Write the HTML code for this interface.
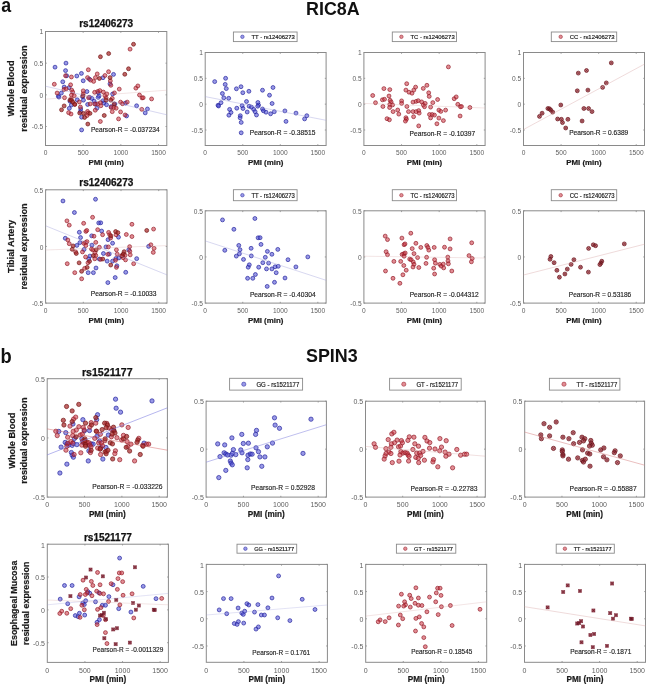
<!DOCTYPE html>
<html><head><meta charset="utf-8"><title>RIC8A / SPIN3</title>
<style>
html,body{margin:0;padding:0;background:#fff;}
body{width:647px;height:685px;overflow:hidden;}
svg{display:block;font-family:"Liberation Sans", Arial, sans-serif;}
.tk{font-size:6.6px;fill:#606060;}
.xl{font-size:7.9px;font-weight:bold;fill:#1a1a1a;stroke:#1a1a1a;stroke-width:0.2px;}
.yl{font-size:9.2px;font-weight:bold;fill:#1a1a1a;stroke:#1a1a1a;stroke-width:0.2px;}
.ti{font-size:10px;font-weight:bold;fill:#111;stroke:#111;stroke-width:0.25px;}
.big{font-size:17.9px;font-weight:bold;fill:#111;}
.pl{font-size:20.5px;font-weight:bold;fill:#111;}
.lg{fill:#1a1a1a;stroke:#1a1a1a;stroke-width:0.18px;}
.pr{fill:#1c1c1c;stroke:#1c1c1c;stroke-width:0.15px;}
</style></head><body>
<svg width="647" height="685" viewBox="0 0 647 685">
<rect width="647" height="685" fill="#fff"/>
<text x="1.3" y="12" class="pl" textLength="9.9" lengthAdjust="spacingAndGlyphs">a</text>
<text x="306" y="14.6" class="big">RIC8A</text>
<text x="0.6" y="362.6" class="pl" textLength="11.2" lengthAdjust="spacingAndGlyphs">b</text>
<text x="306" y="362.4" class="big">SPIN3</text>
<rect x="45.5" y="31.5" width="121.3" height="114" fill="none" stroke="#8a8a8a" stroke-width="1"/>
<text x="45.5" y="154.8" class="tk" style="font-size:6.6px" text-anchor="middle">0</text>
<line x1="83.17" y1="145.5" x2="83.17" y2="144.2" stroke="#8a8a8a" stroke-width="0.8"/>
<line x1="83.17" y1="31.5" x2="83.17" y2="32.8" stroke="#8a8a8a" stroke-width="0.8"/>
<text x="83.17" y="154.8" class="tk" style="font-size:6.6px" text-anchor="middle">500</text>
<line x1="120.84" y1="145.5" x2="120.84" y2="144.2" stroke="#8a8a8a" stroke-width="0.8"/>
<line x1="120.84" y1="31.5" x2="120.84" y2="32.8" stroke="#8a8a8a" stroke-width="0.8"/>
<text x="120.84" y="154.8" class="tk" style="font-size:6.6px" text-anchor="middle">1000</text>
<line x1="158.51" y1="145.5" x2="158.51" y2="144.2" stroke="#8a8a8a" stroke-width="0.8"/>
<line x1="158.51" y1="31.5" x2="158.51" y2="32.8" stroke="#8a8a8a" stroke-width="0.8"/>
<text x="158.51" y="154.8" class="tk" style="font-size:6.6px" text-anchor="middle">1500</text>
<line x1="45.5" y1="31.5" x2="46.8" y2="31.5" stroke="#8a8a8a" stroke-width="0.8"/>
<line x1="166.8" y1="31.5" x2="165.5" y2="31.5" stroke="#8a8a8a" stroke-width="0.8"/>
<text x="43.2" y="34.18" class="tk" style="font-size:6.6px" text-anchor="end">1</text>
<line x1="45.5" y1="63.17" x2="46.8" y2="63.17" stroke="#8a8a8a" stroke-width="0.8"/>
<line x1="166.8" y1="63.17" x2="165.5" y2="63.17" stroke="#8a8a8a" stroke-width="0.8"/>
<text x="43.2" y="65.84" class="tk" style="font-size:6.6px" text-anchor="end">0.5</text>
<line x1="45.5" y1="94.83" x2="46.8" y2="94.83" stroke="#8a8a8a" stroke-width="0.8"/>
<line x1="166.8" y1="94.83" x2="165.5" y2="94.83" stroke="#8a8a8a" stroke-width="0.8"/>
<text x="43.2" y="97.51" class="tk" style="font-size:6.6px" text-anchor="end">0</text>
<line x1="45.5" y1="126.5" x2="46.8" y2="126.5" stroke="#8a8a8a" stroke-width="0.8"/>
<line x1="166.8" y1="126.5" x2="165.5" y2="126.5" stroke="#8a8a8a" stroke-width="0.8"/>
<text x="43.2" y="129.18" class="tk" style="font-size:6.6px" text-anchor="end">-0.5</text>
<text x="106.15" y="164.9" class="xl" style="font-size:7.9px" text-anchor="middle">PMI (min)</text>
<g fill="#4a4ad4" fill-opacity="0.56" stroke="#22229c" stroke-opacity="0.85" stroke-width="0.8">
<circle cx="55.03" cy="67.17" r="1.95"/>
<circle cx="65.97" cy="63.13" r="1.95"/>
<circle cx="65.57" cy="70.6" r="1.95"/>
<circle cx="66.67" cy="75.75" r="1.95"/>
<circle cx="62.76" cy="81.76" r="1.95"/>
<circle cx="64.16" cy="87.03" r="1.95"/>
<circle cx="69.08" cy="87.64" r="1.95"/>
<circle cx="61.35" cy="93.04" r="1.95"/>
<circle cx="58.34" cy="96.22" r="1.95"/>
<circle cx="58.94" cy="97.08" r="1.95"/>
<circle cx="76.8" cy="76" r="1.95"/>
<circle cx="81.42" cy="73.42" r="1.95"/>
<circle cx="83.22" cy="80.78" r="1.95"/>
<circle cx="89.34" cy="79.06" r="1.95"/>
<circle cx="102.99" cy="77.71" r="1.95"/>
<circle cx="69.98" cy="101.25" r="1.95"/>
<circle cx="71.39" cy="105.05" r="1.95"/>
<circle cx="69.28" cy="108.36" r="1.95"/>
<circle cx="77.2" cy="99.78" r="1.95"/>
<circle cx="82.52" cy="96.71" r="1.95"/>
<circle cx="83.43" cy="100.15" r="1.95"/>
<circle cx="86.94" cy="91.56" r="1.95"/>
<circle cx="87.64" cy="104.44" r="1.95"/>
<circle cx="80.72" cy="108.97" r="1.95"/>
<circle cx="80.52" cy="111.55" r="1.95"/>
<circle cx="81.62" cy="117.18" r="1.95"/>
<circle cx="89.55" cy="97.33" r="1.95"/>
<circle cx="91.85" cy="98.43" r="1.95"/>
<circle cx="94.16" cy="101.25" r="1.95"/>
<circle cx="95.57" cy="104.07" r="1.95"/>
<circle cx="96.97" cy="108.11" r="1.95"/>
<circle cx="98.37" cy="92.79" r="1.95"/>
<circle cx="99.08" cy="95.98" r="1.95"/>
<circle cx="98.17" cy="97.33" r="1.95"/>
<circle cx="102.99" cy="100.76" r="1.95"/>
<circle cx="103.89" cy="102.96" r="1.95"/>
<circle cx="106.5" cy="104.68" r="1.95"/>
<circle cx="113.52" cy="74.4" r="1.95"/>
<circle cx="110.01" cy="83.84" r="1.95"/>
<circle cx="112.62" cy="94.02" r="1.95"/>
<circle cx="111.12" cy="106.64" r="1.95"/>
<circle cx="114.83" cy="104.07" r="1.95"/>
<circle cx="125.46" cy="103.09" r="1.95"/>
<circle cx="136.6" cy="105.78" r="1.95"/>
<circle cx="126.57" cy="115.96" r="1.95"/>
<circle cx="147.44" cy="108.97" r="1.95"/>
<circle cx="145.23" cy="112.89" r="1.95"/>
<circle cx="81.62" cy="129.93" r="1.95"/>
</g>
<g fill="#cc3440" fill-opacity="0.56" stroke="#921a26" stroke-opacity="0.85" stroke-width="0.8">
<circle cx="54.31" cy="84.21" r="1.95"/>
<circle cx="57.11" cy="93.04" r="1.95"/>
<circle cx="65.52" cy="75.75" r="1.95"/>
<circle cx="71.42" cy="76.98" r="1.95"/>
<circle cx="70.62" cy="84.82" r="1.95"/>
<circle cx="64.02" cy="89.48" r="1.95"/>
<circle cx="66.12" cy="88.87" r="1.95"/>
<circle cx="64.52" cy="97.69" r="1.95"/>
<circle cx="71.72" cy="90.09" r="1.95"/>
<circle cx="72.72" cy="92.05" r="1.95"/>
<circle cx="71.42" cy="95.12" r="1.95"/>
<circle cx="74.22" cy="95.73" r="1.95"/>
<circle cx="71.22" cy="98.92" r="1.95"/>
<circle cx="74.72" cy="103.95" r="1.95"/>
<circle cx="79.33" cy="101.98" r="1.95"/>
<circle cx="80.43" cy="107.01" r="1.95"/>
<circle cx="68.62" cy="112.65" r="1.95"/>
<circle cx="71.02" cy="114" r="1.95"/>
<circle cx="83.23" cy="90.83" r="1.95"/>
<circle cx="83.23" cy="93.89" r="1.95"/>
<circle cx="88.34" cy="69.75" r="1.95"/>
<circle cx="87.53" cy="77.59" r="1.95"/>
<circle cx="90.64" cy="80.16" r="1.95"/>
<circle cx="93.64" cy="81.39" r="1.95"/>
<circle cx="95.44" cy="77.59" r="1.95"/>
<circle cx="97.24" cy="73.91" r="1.95"/>
<circle cx="104.95" cy="75.51" r="1.95"/>
<circle cx="88.54" cy="97.69" r="1.95"/>
<circle cx="90.14" cy="103.95" r="1.95"/>
<circle cx="87.53" cy="111.42" r="1.95"/>
<circle cx="88.04" cy="113.26" r="1.95"/>
<circle cx="87.03" cy="115.59" r="1.95"/>
<circle cx="94.64" cy="92.3" r="1.95"/>
<circle cx="97.74" cy="91.44" r="1.95"/>
<circle cx="99.84" cy="90.58" r="1.95"/>
<circle cx="103.35" cy="92.05" r="1.95"/>
<circle cx="104.95" cy="95.73" r="1.95"/>
<circle cx="94.64" cy="103.95" r="1.95"/>
<circle cx="97.74" cy="103.95" r="1.95"/>
<circle cx="100.35" cy="102.72" r="1.95"/>
<circle cx="100.85" cy="105.78" r="1.95"/>
<circle cx="95.24" cy="110.2" r="1.95"/>
<circle cx="100.35" cy="121.47" r="1.95"/>
<circle cx="130.07" cy="49.15" r="1.95"/>
<circle cx="108.55" cy="71.71" r="1.95"/>
<circle cx="110.35" cy="80.9" r="1.95"/>
<circle cx="110.85" cy="85.31" r="1.95"/>
<circle cx="119.26" cy="89.11" r="1.95"/>
<circle cx="114.46" cy="92.91" r="1.95"/>
<circle cx="106.85" cy="93.89" r="1.95"/>
<circle cx="106.15" cy="97.94" r="1.95"/>
<circle cx="112.26" cy="98.43" r="1.95"/>
<circle cx="111.15" cy="107.5" r="1.95"/>
<circle cx="113.86" cy="107.5" r="1.95"/>
<circle cx="116.16" cy="108.24" r="1.95"/>
<circle cx="112.26" cy="111.67" r="1.95"/>
<circle cx="120.56" cy="102.11" r="1.95"/>
<circle cx="122.46" cy="103.7" r="1.95"/>
<circle cx="127.27" cy="102.11" r="1.95"/>
<circle cx="120.56" cy="111.91" r="1.95"/>
<circle cx="125.07" cy="114.98" r="1.95"/>
<circle cx="118.56" cy="118.9" r="1.95"/>
<circle cx="135.87" cy="88.13" r="1.95"/>
<circle cx="137.88" cy="85.93" r="1.95"/>
<circle cx="139.48" cy="95" r="1.95"/>
<circle cx="142.08" cy="97.94" r="1.95"/>
<circle cx="143.18" cy="97.69" r="1.95"/>
<circle cx="151.59" cy="98.92" r="1.95"/>
<circle cx="141.78" cy="109.34" r="1.95"/>
</g>
<g fill="#a82a2a" fill-opacity="0.72" stroke="#701414" stroke-opacity="0.85" stroke-width="0.8">
<circle cx="133.52" cy="44.25" r="1.95"/>
<circle cx="100.44" cy="56.75" r="1.95"/>
<circle cx="108.66" cy="53.56" r="1.95"/>
<circle cx="128.51" cy="68.76" r="1.95"/>
<circle cx="124.8" cy="74.28" r="1.95"/>
<circle cx="99.43" cy="78.45" r="1.95"/>
<circle cx="110.06" cy="77.59" r="1.95"/>
<circle cx="82.89" cy="95.85" r="1.95"/>
<circle cx="69.96" cy="100.15" r="1.95"/>
<circle cx="71.56" cy="100.51" r="1.95"/>
<circle cx="72.87" cy="102.11" r="1.95"/>
<circle cx="74.77" cy="104.56" r="1.95"/>
<circle cx="64.15" cy="105.91" r="1.95"/>
<circle cx="61.54" cy="109.83" r="1.95"/>
<circle cx="106.05" cy="100.15" r="1.95"/>
<circle cx="110.76" cy="100.15" r="1.95"/>
<circle cx="114.17" cy="103.95" r="1.95"/>
<circle cx="79.68" cy="113.02" r="1.95"/>
<circle cx="83.49" cy="113.38" r="1.95"/>
<circle cx="84.6" cy="117.43" r="1.95"/>
<circle cx="90.01" cy="113.38" r="1.95"/>
<circle cx="104.25" cy="115.47" r="1.95"/>
<circle cx="87.8" cy="124.05" r="1.95"/>
</g>
<line x1="45.5" y1="86.2" x2="166.8" y2="114.8" stroke="#a0a0dc" stroke-opacity="0.7" stroke-width="0.6"/>
<line x1="45.5" y1="99.2" x2="166.8" y2="90.2" stroke="#d8a8a8" stroke-opacity="0.5" stroke-width="0.6"/>
<text x="106.15" y="26.9" class="ti" style="font-size:10px" text-anchor="middle">rs12406273</text>
<text transform="translate(14.2,88.5) rotate(-90)" class="yl" style="font-size:9.2px" text-anchor="middle">Whole Blood</text>
<text transform="translate(26.6,88.5) rotate(-90)" class="yl" style="font-size:9.2px" text-anchor="middle">residual expression</text>
<rect x="205.2" y="52.5" width="120.9" height="93" fill="none" stroke="#8a8a8a" stroke-width="1"/>
<text x="205.2" y="154.8" class="tk" style="font-size:6.6px" text-anchor="middle">0</text>
<line x1="242.75" y1="145.5" x2="242.75" y2="144.2" stroke="#8a8a8a" stroke-width="0.8"/>
<line x1="242.75" y1="52.5" x2="242.75" y2="53.8" stroke="#8a8a8a" stroke-width="0.8"/>
<text x="242.75" y="154.8" class="tk" style="font-size:6.6px" text-anchor="middle">500</text>
<line x1="280.29" y1="145.5" x2="280.29" y2="144.2" stroke="#8a8a8a" stroke-width="0.8"/>
<line x1="280.29" y1="52.5" x2="280.29" y2="53.8" stroke="#8a8a8a" stroke-width="0.8"/>
<text x="280.29" y="154.8" class="tk" style="font-size:6.6px" text-anchor="middle">1000</text>
<line x1="317.84" y1="145.5" x2="317.84" y2="144.2" stroke="#8a8a8a" stroke-width="0.8"/>
<line x1="317.84" y1="52.5" x2="317.84" y2="53.8" stroke="#8a8a8a" stroke-width="0.8"/>
<text x="317.84" y="154.8" class="tk" style="font-size:6.6px" text-anchor="middle">1500</text>
<line x1="205.2" y1="52.5" x2="206.5" y2="52.5" stroke="#8a8a8a" stroke-width="0.8"/>
<line x1="326.1" y1="52.5" x2="324.8" y2="52.5" stroke="#8a8a8a" stroke-width="0.8"/>
<text x="202.9" y="55.18" class="tk" style="font-size:6.6px" text-anchor="end">1</text>
<line x1="205.2" y1="78.33" x2="206.5" y2="78.33" stroke="#8a8a8a" stroke-width="0.8"/>
<line x1="326.1" y1="78.33" x2="324.8" y2="78.33" stroke="#8a8a8a" stroke-width="0.8"/>
<text x="202.9" y="81.01" class="tk" style="font-size:6.6px" text-anchor="end">0.5</text>
<line x1="205.2" y1="104.17" x2="206.5" y2="104.17" stroke="#8a8a8a" stroke-width="0.8"/>
<line x1="326.1" y1="104.17" x2="324.8" y2="104.17" stroke="#8a8a8a" stroke-width="0.8"/>
<text x="202.9" y="106.84" class="tk" style="font-size:6.6px" text-anchor="end">0</text>
<line x1="205.2" y1="130" x2="206.5" y2="130" stroke="#8a8a8a" stroke-width="0.8"/>
<line x1="326.1" y1="130" x2="324.8" y2="130" stroke="#8a8a8a" stroke-width="0.8"/>
<text x="202.9" y="132.68" class="tk" style="font-size:6.6px" text-anchor="end">-0.5</text>
<text x="265.65" y="164.9" class="xl" style="font-size:7.9px" text-anchor="middle">PMI (min)</text>
<g fill="#4a4ad4" fill-opacity="0.56" stroke="#22229c" stroke-opacity="0.85" stroke-width="0.8">
<circle cx="214.7" cy="81.6" r="1.95"/>
<circle cx="225.6" cy="78.3" r="1.95"/>
<circle cx="225.2" cy="84.4" r="1.95"/>
<circle cx="226.3" cy="88.6" r="1.95"/>
<circle cx="222.4" cy="93.5" r="1.95"/>
<circle cx="223.8" cy="97.8" r="1.95"/>
<circle cx="228.7" cy="98.3" r="1.95"/>
<circle cx="221" cy="102.7" r="1.95"/>
<circle cx="218" cy="105.3" r="1.95"/>
<circle cx="218.6" cy="106" r="1.95"/>
<circle cx="236.4" cy="88.8" r="1.95"/>
<circle cx="241" cy="86.7" r="1.95"/>
<circle cx="242.8" cy="92.7" r="1.95"/>
<circle cx="248.9" cy="91.3" r="1.95"/>
<circle cx="262.5" cy="90.2" r="1.95"/>
<circle cx="229.6" cy="109.4" r="1.95"/>
<circle cx="231" cy="112.5" r="1.95"/>
<circle cx="228.9" cy="115.2" r="1.95"/>
<circle cx="236.8" cy="108.2" r="1.95"/>
<circle cx="242.1" cy="105.7" r="1.95"/>
<circle cx="243" cy="108.5" r="1.95"/>
<circle cx="246.5" cy="101.5" r="1.95"/>
<circle cx="247.2" cy="112" r="1.95"/>
<circle cx="240.3" cy="115.7" r="1.95"/>
<circle cx="240.1" cy="117.8" r="1.95"/>
<circle cx="241.2" cy="122.4" r="1.95"/>
<circle cx="249.1" cy="106.2" r="1.95"/>
<circle cx="251.4" cy="107.1" r="1.95"/>
<circle cx="253.7" cy="109.4" r="1.95"/>
<circle cx="255.1" cy="111.7" r="1.95"/>
<circle cx="256.5" cy="115" r="1.95"/>
<circle cx="257.9" cy="102.5" r="1.95"/>
<circle cx="258.6" cy="105.1" r="1.95"/>
<circle cx="257.7" cy="106.2" r="1.95"/>
<circle cx="262.5" cy="109" r="1.95"/>
<circle cx="263.4" cy="110.8" r="1.95"/>
<circle cx="266" cy="112.2" r="1.95"/>
<circle cx="273" cy="87.5" r="1.95"/>
<circle cx="269.5" cy="95.2" r="1.95"/>
<circle cx="272.1" cy="103.5" r="1.95"/>
<circle cx="270.6" cy="113.8" r="1.95"/>
<circle cx="274.3" cy="111.7" r="1.95"/>
<circle cx="284.9" cy="110.9" r="1.95"/>
<circle cx="296" cy="113.1" r="1.95"/>
<circle cx="286" cy="121.4" r="1.95"/>
<circle cx="306.8" cy="115.7" r="1.95"/>
<circle cx="304.6" cy="118.9" r="1.95"/>
<circle cx="241.2" cy="132.8" r="1.95"/>
</g>
<line x1="205.2" y1="96.6" x2="326.1" y2="120.3" stroke="#a0a0dc" stroke-opacity="0.7" stroke-width="0.6"/>
<rect x="233.4" y="32" width="63.7" height="9.6" fill="#fff" stroke="#8a8a8a" stroke-width="0.9"/>
<circle cx="242.4" cy="36.8" r="1.75" fill="#4a4ad4" fill-opacity="0.56" stroke="#22229c" stroke-opacity="0.85" stroke-width="0.6"/>
<text x="251.4" y="38.92" class="lg" style="font-size:5.9px" textLength="43.51" lengthAdjust="spacingAndGlyphs">TT - rs12406273</text>
<rect x="363.9" y="52.5" width="121.2" height="93" fill="none" stroke="#8a8a8a" stroke-width="1"/>
<text x="363.9" y="154.8" class="tk" style="font-size:6.6px" text-anchor="middle">0</text>
<line x1="401.54" y1="145.5" x2="401.54" y2="144.2" stroke="#8a8a8a" stroke-width="0.8"/>
<line x1="401.54" y1="52.5" x2="401.54" y2="53.8" stroke="#8a8a8a" stroke-width="0.8"/>
<text x="401.54" y="154.8" class="tk" style="font-size:6.6px" text-anchor="middle">500</text>
<line x1="439.18" y1="145.5" x2="439.18" y2="144.2" stroke="#8a8a8a" stroke-width="0.8"/>
<line x1="439.18" y1="52.5" x2="439.18" y2="53.8" stroke="#8a8a8a" stroke-width="0.8"/>
<text x="439.18" y="154.8" class="tk" style="font-size:6.6px" text-anchor="middle">1000</text>
<line x1="476.82" y1="145.5" x2="476.82" y2="144.2" stroke="#8a8a8a" stroke-width="0.8"/>
<line x1="476.82" y1="52.5" x2="476.82" y2="53.8" stroke="#8a8a8a" stroke-width="0.8"/>
<text x="476.82" y="154.8" class="tk" style="font-size:6.6px" text-anchor="middle">1500</text>
<line x1="363.9" y1="52.5" x2="365.2" y2="52.5" stroke="#8a8a8a" stroke-width="0.8"/>
<line x1="485.1" y1="52.5" x2="483.8" y2="52.5" stroke="#8a8a8a" stroke-width="0.8"/>
<text x="361.6" y="55.18" class="tk" style="font-size:6.6px" text-anchor="end">1</text>
<line x1="363.9" y1="78.33" x2="365.2" y2="78.33" stroke="#8a8a8a" stroke-width="0.8"/>
<line x1="485.1" y1="78.33" x2="483.8" y2="78.33" stroke="#8a8a8a" stroke-width="0.8"/>
<text x="361.6" y="81.01" class="tk" style="font-size:6.6px" text-anchor="end">0.5</text>
<line x1="363.9" y1="104.17" x2="365.2" y2="104.17" stroke="#8a8a8a" stroke-width="0.8"/>
<line x1="485.1" y1="104.17" x2="483.8" y2="104.17" stroke="#8a8a8a" stroke-width="0.8"/>
<text x="361.6" y="106.84" class="tk" style="font-size:6.6px" text-anchor="end">0</text>
<line x1="363.9" y1="130" x2="365.2" y2="130" stroke="#8a8a8a" stroke-width="0.8"/>
<line x1="485.1" y1="130" x2="483.8" y2="130" stroke="#8a8a8a" stroke-width="0.8"/>
<text x="361.6" y="132.68" class="tk" style="font-size:6.6px" text-anchor="end">-0.5</text>
<text x="424.5" y="164.9" class="xl" style="font-size:7.9px" text-anchor="middle">PMI (min)</text>
<g fill="#cc3440" fill-opacity="0.56" stroke="#921a26" stroke-opacity="0.85" stroke-width="0.8">
<circle cx="372.7" cy="95.5" r="1.95"/>
<circle cx="375.5" cy="102.7" r="1.95"/>
<circle cx="383.9" cy="88.6" r="1.95"/>
<circle cx="389.8" cy="89.6" r="1.95"/>
<circle cx="389" cy="96" r="1.95"/>
<circle cx="382.4" cy="99.8" r="1.95"/>
<circle cx="384.5" cy="99.3" r="1.95"/>
<circle cx="382.9" cy="106.5" r="1.95"/>
<circle cx="390.1" cy="100.3" r="1.95"/>
<circle cx="391.1" cy="101.9" r="1.95"/>
<circle cx="389.8" cy="104.4" r="1.95"/>
<circle cx="392.6" cy="104.9" r="1.95"/>
<circle cx="389.6" cy="107.5" r="1.95"/>
<circle cx="393.1" cy="111.6" r="1.95"/>
<circle cx="397.7" cy="110" r="1.95"/>
<circle cx="398.8" cy="114.1" r="1.95"/>
<circle cx="387" cy="118.7" r="1.95"/>
<circle cx="389.4" cy="119.8" r="1.95"/>
<circle cx="401.6" cy="100.9" r="1.95"/>
<circle cx="401.6" cy="103.4" r="1.95"/>
<circle cx="406.7" cy="83.7" r="1.95"/>
<circle cx="405.9" cy="90.1" r="1.95"/>
<circle cx="409" cy="92.2" r="1.95"/>
<circle cx="412" cy="93.2" r="1.95"/>
<circle cx="413.8" cy="90.1" r="1.95"/>
<circle cx="415.6" cy="87.1" r="1.95"/>
<circle cx="423.3" cy="88.4" r="1.95"/>
<circle cx="406.9" cy="106.5" r="1.95"/>
<circle cx="408.5" cy="111.6" r="1.95"/>
<circle cx="405.9" cy="117.7" r="1.95"/>
<circle cx="406.4" cy="119.2" r="1.95"/>
<circle cx="405.4" cy="121.1" r="1.95"/>
<circle cx="413" cy="102.1" r="1.95"/>
<circle cx="416.1" cy="101.4" r="1.95"/>
<circle cx="418.2" cy="100.7" r="1.95"/>
<circle cx="421.7" cy="101.9" r="1.95"/>
<circle cx="423.3" cy="104.9" r="1.95"/>
<circle cx="413" cy="111.6" r="1.95"/>
<circle cx="416.1" cy="111.6" r="1.95"/>
<circle cx="418.7" cy="110.6" r="1.95"/>
<circle cx="419.2" cy="113.1" r="1.95"/>
<circle cx="413.6" cy="116.7" r="1.95"/>
<circle cx="418.7" cy="125.9" r="1.95"/>
<circle cx="448.4" cy="66.9" r="1.95"/>
<circle cx="426.9" cy="85.3" r="1.95"/>
<circle cx="428.7" cy="92.8" r="1.95"/>
<circle cx="429.2" cy="96.4" r="1.95"/>
<circle cx="437.6" cy="99.5" r="1.95"/>
<circle cx="432.8" cy="102.6" r="1.95"/>
<circle cx="425.2" cy="103.4" r="1.95"/>
<circle cx="424.5" cy="106.7" r="1.95"/>
<circle cx="430.6" cy="107.1" r="1.95"/>
<circle cx="429.5" cy="114.5" r="1.95"/>
<circle cx="432.2" cy="114.5" r="1.95"/>
<circle cx="434.5" cy="115.1" r="1.95"/>
<circle cx="430.6" cy="117.9" r="1.95"/>
<circle cx="438.9" cy="110.1" r="1.95"/>
<circle cx="440.8" cy="111.4" r="1.95"/>
<circle cx="445.6" cy="110.1" r="1.95"/>
<circle cx="438.9" cy="118.1" r="1.95"/>
<circle cx="443.4" cy="120.6" r="1.95"/>
<circle cx="436.9" cy="123.8" r="1.95"/>
<circle cx="454.2" cy="98.7" r="1.95"/>
<circle cx="456.2" cy="96.9" r="1.95"/>
<circle cx="457.8" cy="104.3" r="1.95"/>
<circle cx="460.4" cy="106.7" r="1.95"/>
<circle cx="461.5" cy="106.5" r="1.95"/>
<circle cx="469.9" cy="107.5" r="1.95"/>
<circle cx="460.1" cy="116" r="1.95"/>
</g>
<line x1="363.9" y1="103.4" x2="485.1" y2="108" stroke="#d8a8a8" stroke-opacity="0.5" stroke-width="0.6"/>
<rect x="392.3" y="32" width="64.2" height="9.6" fill="#fff" stroke="#8a8a8a" stroke-width="0.9"/>
<circle cx="401.4" cy="36.8" r="1.75" fill="#cc3440" fill-opacity="0.56" stroke="#921a26" stroke-opacity="0.85" stroke-width="0.6"/>
<text x="410.4" y="38.92" class="lg" style="font-size:5.9px" textLength="44.27" lengthAdjust="spacingAndGlyphs">TC - rs12406273</text>
<rect x="523.5" y="52.5" width="121" height="93" fill="none" stroke="#8a8a8a" stroke-width="1"/>
<text x="523.5" y="154.8" class="tk" style="font-size:6.6px" text-anchor="middle">0</text>
<line x1="561.08" y1="145.5" x2="561.08" y2="144.2" stroke="#8a8a8a" stroke-width="0.8"/>
<line x1="561.08" y1="52.5" x2="561.08" y2="53.8" stroke="#8a8a8a" stroke-width="0.8"/>
<text x="561.08" y="154.8" class="tk" style="font-size:6.6px" text-anchor="middle">500</text>
<line x1="598.66" y1="145.5" x2="598.66" y2="144.2" stroke="#8a8a8a" stroke-width="0.8"/>
<line x1="598.66" y1="52.5" x2="598.66" y2="53.8" stroke="#8a8a8a" stroke-width="0.8"/>
<text x="598.66" y="154.8" class="tk" style="font-size:6.6px" text-anchor="middle">1000</text>
<line x1="636.23" y1="145.5" x2="636.23" y2="144.2" stroke="#8a8a8a" stroke-width="0.8"/>
<line x1="636.23" y1="52.5" x2="636.23" y2="53.8" stroke="#8a8a8a" stroke-width="0.8"/>
<text x="636.23" y="154.8" class="tk" style="font-size:6.6px" text-anchor="middle">1500</text>
<line x1="523.5" y1="52.5" x2="524.8" y2="52.5" stroke="#8a8a8a" stroke-width="0.8"/>
<line x1="644.5" y1="52.5" x2="643.2" y2="52.5" stroke="#8a8a8a" stroke-width="0.8"/>
<text x="521.2" y="55.18" class="tk" style="font-size:6.6px" text-anchor="end">1</text>
<line x1="523.5" y1="78.33" x2="524.8" y2="78.33" stroke="#8a8a8a" stroke-width="0.8"/>
<line x1="644.5" y1="78.33" x2="643.2" y2="78.33" stroke="#8a8a8a" stroke-width="0.8"/>
<text x="521.2" y="81.01" class="tk" style="font-size:6.6px" text-anchor="end">0.5</text>
<line x1="523.5" y1="104.17" x2="524.8" y2="104.17" stroke="#8a8a8a" stroke-width="0.8"/>
<line x1="644.5" y1="104.17" x2="643.2" y2="104.17" stroke="#8a8a8a" stroke-width="0.8"/>
<text x="521.2" y="106.84" class="tk" style="font-size:6.6px" text-anchor="end">0</text>
<line x1="523.5" y1="130" x2="524.8" y2="130" stroke="#8a8a8a" stroke-width="0.8"/>
<line x1="644.5" y1="130" x2="643.2" y2="130" stroke="#8a8a8a" stroke-width="0.8"/>
<text x="521.2" y="132.68" class="tk" style="font-size:6.6px" text-anchor="end">-0.5</text>
<text x="584" y="164.9" class="xl" style="font-size:7.9px" text-anchor="middle">PMI (min)</text>
<g fill="#a8343e" fill-opacity="0.72" stroke="#641018" stroke-opacity="0.85" stroke-width="0.8">
<circle cx="611.3" cy="62.9" r="1.95"/>
<circle cx="578.3" cy="73.1" r="1.95"/>
<circle cx="586.5" cy="70.5" r="1.95"/>
<circle cx="606.3" cy="82.9" r="1.95"/>
<circle cx="602.6" cy="87.4" r="1.95"/>
<circle cx="577.3" cy="90.8" r="1.95"/>
<circle cx="587.9" cy="90.1" r="1.95"/>
<circle cx="560.8" cy="105" r="1.95"/>
<circle cx="547.9" cy="108.5" r="1.95"/>
<circle cx="549.5" cy="108.8" r="1.95"/>
<circle cx="550.8" cy="110.1" r="1.95"/>
<circle cx="552.7" cy="112.1" r="1.95"/>
<circle cx="542.1" cy="113.2" r="1.95"/>
<circle cx="539.5" cy="116.4" r="1.95"/>
<circle cx="583.9" cy="108.5" r="1.95"/>
<circle cx="588.6" cy="108.5" r="1.95"/>
<circle cx="592" cy="111.6" r="1.95"/>
<circle cx="557.6" cy="119" r="1.95"/>
<circle cx="561.4" cy="119.3" r="1.95"/>
<circle cx="562.5" cy="122.6" r="1.95"/>
<circle cx="567.9" cy="119.3" r="1.95"/>
<circle cx="582.1" cy="121" r="1.95"/>
<circle cx="565.7" cy="128" r="1.95"/>
</g>
<path d="M610.1 61.7L612.5 64.1M610.1 64.1L612.5 61.7M577.1 71.9L579.5 74.3M577.1 74.3L579.5 71.9M585.3 69.3L587.7 71.7M585.3 71.7L587.7 69.3M605.1 81.7L607.5 84.1M605.1 84.1L607.5 81.7M601.4 86.2L603.8 88.6M601.4 88.6L603.8 86.2M576.1 89.6L578.5 92M576.1 92L578.5 89.6M586.7 88.9L589.1 91.3M586.7 91.3L589.1 88.9M559.6 103.8L562 106.2M559.6 106.2L562 103.8M546.7 107.3L549.1 109.7M546.7 109.7L549.1 107.3M548.3 107.6L550.7 110M548.3 110L550.7 107.6M549.6 108.9L552 111.3M549.6 111.3L552 108.9M551.5 110.9L553.9 113.3M551.5 113.3L553.9 110.9M540.9 112L543.3 114.4M540.9 114.4L543.3 112M538.3 115.2L540.7 117.6M538.3 117.6L540.7 115.2M582.7 107.3L585.1 109.7M582.7 109.7L585.1 107.3M587.4 107.3L589.8 109.7M587.4 109.7L589.8 107.3M590.8 110.4L593.2 112.8M590.8 112.8L593.2 110.4M556.4 117.8L558.8 120.2M556.4 120.2L558.8 117.8M560.2 118.1L562.6 120.5M560.2 120.5L562.6 118.1M561.3 121.4L563.7 123.8M561.3 123.8L563.7 121.4M566.7 118.1L569.1 120.5M566.7 120.5L569.1 118.1M580.9 119.8L583.3 122.2M580.9 122.2L583.3 119.8M564.5 126.8L566.9 129.2M564.5 129.2L566.9 126.8" stroke="#4a0c14" stroke-opacity="0.6" stroke-width="0.55" fill="none"/>
<line x1="523.5" y1="129.5" x2="644.5" y2="64.1" stroke="#d8a8a8" stroke-opacity="0.7" stroke-width="0.6"/>
<rect x="551.3" y="32" width="65.4" height="9.6" fill="#fff" stroke="#8a8a8a" stroke-width="0.9"/>
<circle cx="560.7" cy="36.8" r="1.75" fill="#cc3440" fill-opacity="0.56" stroke="#921a26" stroke-opacity="0.85" stroke-width="0.6"/>
<text x="569.7" y="38.92" class="lg" style="font-size:5.9px" textLength="44.93" lengthAdjust="spacingAndGlyphs">CC - rs12406273</text>
<text x="90.9" y="132.26" class="pr" style="font-size:7.1px" textLength="68.8" lengthAdjust="spacingAndGlyphs">Pearson-R = -0.037234</text>
<text x="249.8" y="135.36" class="pr" style="font-size:7.1px" textLength="65.54" lengthAdjust="spacingAndGlyphs">Pearson-R = -0.38515</text>
<text x="409.6" y="135.56" class="pr" style="font-size:7.1px" textLength="65.54" lengthAdjust="spacingAndGlyphs">Pearson-R = -0.10397</text>
<text x="569.2" y="134.86" class="pr" style="font-size:7.1px" textLength="59.02" lengthAdjust="spacingAndGlyphs">Pearson-R = 0.6389</text>
<rect x="45.6" y="189.8" width="121.4" height="113.3" fill="none" stroke="#8a8a8a" stroke-width="1"/>
<text x="45.6" y="313.4" class="tk" style="font-size:6.6px" text-anchor="middle">0</text>
<line x1="83.3" y1="303.1" x2="83.3" y2="301.8" stroke="#8a8a8a" stroke-width="0.8"/>
<line x1="83.3" y1="189.8" x2="83.3" y2="191.1" stroke="#8a8a8a" stroke-width="0.8"/>
<text x="83.3" y="313.4" class="tk" style="font-size:6.6px" text-anchor="middle">500</text>
<line x1="121" y1="303.1" x2="121" y2="301.8" stroke="#8a8a8a" stroke-width="0.8"/>
<line x1="121" y1="189.8" x2="121" y2="191.1" stroke="#8a8a8a" stroke-width="0.8"/>
<text x="121" y="313.4" class="tk" style="font-size:6.6px" text-anchor="middle">1000</text>
<line x1="158.71" y1="303.1" x2="158.71" y2="301.8" stroke="#8a8a8a" stroke-width="0.8"/>
<line x1="158.71" y1="189.8" x2="158.71" y2="191.1" stroke="#8a8a8a" stroke-width="0.8"/>
<text x="158.71" y="313.4" class="tk" style="font-size:6.6px" text-anchor="middle">1500</text>
<line x1="45.6" y1="189.8" x2="46.9" y2="189.8" stroke="#8a8a8a" stroke-width="0.8"/>
<line x1="167" y1="189.8" x2="165.7" y2="189.8" stroke="#8a8a8a" stroke-width="0.8"/>
<text x="43.3" y="192.98" class="tk" style="font-size:6.6px" text-anchor="end">0.5</text>
<line x1="45.6" y1="246.45" x2="46.9" y2="246.45" stroke="#8a8a8a" stroke-width="0.8"/>
<line x1="167" y1="246.45" x2="165.7" y2="246.45" stroke="#8a8a8a" stroke-width="0.8"/>
<text x="43.3" y="249.63" class="tk" style="font-size:6.6px" text-anchor="end">0</text>
<line x1="45.6" y1="303.1" x2="46.9" y2="303.1" stroke="#8a8a8a" stroke-width="0.8"/>
<line x1="167" y1="303.1" x2="165.7" y2="303.1" stroke="#8a8a8a" stroke-width="0.8"/>
<text x="43.3" y="306.28" class="tk" style="font-size:6.6px" text-anchor="end">-0.5</text>
<text x="106.3" y="322.5" class="xl" style="font-size:7.9px" text-anchor="middle">PMI (min)</text>
<g fill="#4a4ad4" fill-opacity="0.56" stroke="#22229c" stroke-opacity="0.85" stroke-width="0.8">
<circle cx="62.97" cy="200.97" r="1.95"/>
<circle cx="95.51" cy="199.25" r="1.95"/>
<circle cx="74.42" cy="212.51" r="1.95"/>
<circle cx="98.72" cy="222.94" r="1.95"/>
<circle cx="100.73" cy="222.82" r="1.95"/>
<circle cx="101.63" cy="231.04" r="1.95"/>
<circle cx="65.28" cy="238.29" r="1.95"/>
<circle cx="79.34" cy="232.27" r="1.95"/>
<circle cx="80.54" cy="237.55" r="1.95"/>
<circle cx="79.94" cy="242.58" r="1.95"/>
<circle cx="76.83" cy="245.41" r="1.95"/>
<circle cx="84.06" cy="249.46" r="1.95"/>
<circle cx="91.69" cy="235.83" r="1.95"/>
<circle cx="91.89" cy="245.16" r="1.95"/>
<circle cx="89.88" cy="256.09" r="1.95"/>
<circle cx="88.78" cy="259.03" r="1.95"/>
<circle cx="96.01" cy="267.99" r="1.95"/>
<circle cx="93.4" cy="272.66" r="1.95"/>
<circle cx="88.18" cy="272.66" r="1.95"/>
<circle cx="108.06" cy="239.64" r="1.95"/>
<circle cx="105.95" cy="246.88" r="1.95"/>
<circle cx="103.44" cy="253.51" r="1.95"/>
<circle cx="99.32" cy="259.03" r="1.95"/>
<circle cx="107.15" cy="261.12" r="1.95"/>
<circle cx="109.26" cy="254" r="1.95"/>
<circle cx="107.86" cy="282.6" r="1.95"/>
<circle cx="118.5" cy="237.18" r="1.95"/>
<circle cx="112.58" cy="243.2" r="1.95"/>
<circle cx="112.58" cy="261.12" r="1.95"/>
<circle cx="115.79" cy="258.54" r="1.95"/>
<circle cx="118.9" cy="257.93" r="1.95"/>
<circle cx="116.89" cy="265.78" r="1.95"/>
<circle cx="128.74" cy="249.83" r="1.95"/>
<circle cx="136.68" cy="258.66" r="1.95"/>
<circle cx="148.62" cy="246.39" r="1.95"/>
<circle cx="125.73" cy="272.29" r="1.95"/>
<circle cx="115.19" cy="277.57" r="1.95"/>
</g>
<g fill="#cc3440" fill-opacity="0.56" stroke="#921a26" stroke-opacity="0.85" stroke-width="0.8">
<circle cx="66.94" cy="220.86" r="1.95"/>
<circle cx="69.24" cy="225.15" r="1.95"/>
<circle cx="92.58" cy="217.3" r="1.95"/>
<circle cx="83.66" cy="223.31" r="1.95"/>
<circle cx="85.87" cy="231.41" r="1.95"/>
<circle cx="86.77" cy="230.43" r="1.95"/>
<circle cx="97.69" cy="229.69" r="1.95"/>
<circle cx="102.59" cy="234.73" r="1.95"/>
<circle cx="93.98" cy="236.2" r="1.95"/>
<circle cx="67.84" cy="240.01" r="1.95"/>
<circle cx="69.24" cy="243.69" r="1.95"/>
<circle cx="83.86" cy="243.32" r="1.95"/>
<circle cx="85.57" cy="242.58" r="1.95"/>
<circle cx="86.97" cy="241.6" r="1.95"/>
<circle cx="85.87" cy="245.53" r="1.95"/>
<circle cx="95.78" cy="242.34" r="1.95"/>
<circle cx="99.39" cy="247.25" r="1.95"/>
<circle cx="75.65" cy="251.91" r="1.95"/>
<circle cx="82.46" cy="251.91" r="1.95"/>
<circle cx="85.57" cy="256.95" r="1.95"/>
<circle cx="91.48" cy="249.09" r="1.95"/>
<circle cx="92.88" cy="249.83" r="1.95"/>
<circle cx="94.98" cy="252.65" r="1.95"/>
<circle cx="95.78" cy="255.47" r="1.95"/>
<circle cx="94.78" cy="258.79" r="1.95"/>
<circle cx="100.59" cy="259.4" r="1.95"/>
<circle cx="87.97" cy="262.71" r="1.95"/>
<circle cx="67.24" cy="263.7" r="1.95"/>
<circle cx="84.66" cy="268.36" r="1.95"/>
<circle cx="74.75" cy="272.66" r="1.95"/>
<circle cx="81.66" cy="278.8" r="1.95"/>
<circle cx="108.6" cy="232.39" r="1.95"/>
<circle cx="108.4" cy="246.88" r="1.95"/>
<circle cx="107.8" cy="254.37" r="1.95"/>
<circle cx="109.71" cy="234.73" r="1.95"/>
<circle cx="110.61" cy="238.04" r="1.95"/>
<circle cx="116.02" cy="234.73" r="1.95"/>
<circle cx="126.33" cy="234.48" r="1.95"/>
<circle cx="131.94" cy="236.57" r="1.95"/>
<circle cx="131.94" cy="224.29" r="1.95"/>
<circle cx="153.58" cy="229.08" r="1.95"/>
<circle cx="116.42" cy="249.83" r="1.95"/>
<circle cx="117.22" cy="254.12" r="1.95"/>
<circle cx="115.52" cy="260.26" r="1.95"/>
<circle cx="116.42" cy="267.38" r="1.95"/>
<circle cx="121.63" cy="255.6" r="1.95"/>
<circle cx="123.03" cy="257.68" r="1.95"/>
<circle cx="125.13" cy="255.23" r="1.95"/>
<circle cx="125.53" cy="259.89" r="1.95"/>
<circle cx="129.64" cy="246.63" r="1.95"/>
<circle cx="129.84" cy="251.3" r="1.95"/>
<circle cx="130.24" cy="254.86" r="1.95"/>
<circle cx="133.65" cy="263.7" r="1.95"/>
<circle cx="150.87" cy="244.79" r="1.95"/>
<circle cx="154.08" cy="248.35" r="1.95"/>
<circle cx="153.28" cy="252.4" r="1.95"/>
</g>
<g fill="#a82a2a" fill-opacity="0.72" stroke="#701414" stroke-opacity="0.85" stroke-width="0.8">
<circle cx="146.73" cy="230.43" r="1.95"/>
<circle cx="110.92" cy="235.95" r="1.95"/>
<circle cx="115.63" cy="231.54" r="1.95"/>
<circle cx="117.94" cy="232.64" r="1.95"/>
<circle cx="73.09" cy="245.9" r="1.95"/>
<circle cx="72.19" cy="249.33" r="1.95"/>
<circle cx="76.3" cy="253.51" r="1.95"/>
<circle cx="96.17" cy="249.83" r="1.95"/>
<circle cx="93.36" cy="255.6" r="1.95"/>
<circle cx="89.54" cy="261.36" r="1.95"/>
<circle cx="79.11" cy="262.84" r="1.95"/>
<circle cx="87.14" cy="267.38" r="1.95"/>
<circle cx="81.62" cy="271.31" r="1.95"/>
<circle cx="102.79" cy="259.03" r="1.95"/>
<circle cx="110.71" cy="265.05" r="1.95"/>
<circle cx="124.16" cy="251.67" r="1.95"/>
<circle cx="123.26" cy="254" r="1.95"/>
<circle cx="122.25" cy="255.84" r="1.95"/>
</g>
<line x1="45.6" y1="225.8" x2="167" y2="274.9" stroke="#a0a0dc" stroke-opacity="0.7" stroke-width="0.6"/>
<line x1="45.6" y1="250" x2="167" y2="245.6" stroke="#d8a8a8" stroke-opacity="0.5" stroke-width="0.6"/>
<text x="106.3" y="185.5" class="ti" style="font-size:10px" text-anchor="middle">rs12406273</text>
<text transform="translate(14.2,246.45) rotate(-90)" class="yl" style="font-size:9.2px" text-anchor="middle">Tibial Artery</text>
<text transform="translate(26.6,246.45) rotate(-90)" class="yl" style="font-size:9.2px" text-anchor="middle">residual expression</text>
<rect x="205.2" y="210.8" width="120.9" height="92.3" fill="none" stroke="#8a8a8a" stroke-width="1"/>
<text x="205.2" y="313.4" class="tk" style="font-size:6.6px" text-anchor="middle">0</text>
<line x1="242.75" y1="303.1" x2="242.75" y2="301.8" stroke="#8a8a8a" stroke-width="0.8"/>
<line x1="242.75" y1="210.8" x2="242.75" y2="212.1" stroke="#8a8a8a" stroke-width="0.8"/>
<text x="242.75" y="313.4" class="tk" style="font-size:6.6px" text-anchor="middle">500</text>
<line x1="280.29" y1="303.1" x2="280.29" y2="301.8" stroke="#8a8a8a" stroke-width="0.8"/>
<line x1="280.29" y1="210.8" x2="280.29" y2="212.1" stroke="#8a8a8a" stroke-width="0.8"/>
<text x="280.29" y="313.4" class="tk" style="font-size:6.6px" text-anchor="middle">1000</text>
<line x1="317.84" y1="303.1" x2="317.84" y2="301.8" stroke="#8a8a8a" stroke-width="0.8"/>
<line x1="317.84" y1="210.8" x2="317.84" y2="212.1" stroke="#8a8a8a" stroke-width="0.8"/>
<text x="317.84" y="313.4" class="tk" style="font-size:6.6px" text-anchor="middle">1500</text>
<line x1="205.2" y1="210.8" x2="206.5" y2="210.8" stroke="#8a8a8a" stroke-width="0.8"/>
<line x1="326.1" y1="210.8" x2="324.8" y2="210.8" stroke="#8a8a8a" stroke-width="0.8"/>
<text x="202.9" y="213.98" class="tk" style="font-size:6.6px" text-anchor="end">0.5</text>
<line x1="205.2" y1="256.95" x2="206.5" y2="256.95" stroke="#8a8a8a" stroke-width="0.8"/>
<line x1="326.1" y1="256.95" x2="324.8" y2="256.95" stroke="#8a8a8a" stroke-width="0.8"/>
<text x="202.9" y="260.13" class="tk" style="font-size:6.6px" text-anchor="end">0</text>
<line x1="205.2" y1="303.1" x2="206.5" y2="303.1" stroke="#8a8a8a" stroke-width="0.8"/>
<line x1="326.1" y1="303.1" x2="324.8" y2="303.1" stroke="#8a8a8a" stroke-width="0.8"/>
<text x="202.9" y="306.28" class="tk" style="font-size:6.6px" text-anchor="end">-0.5</text>
<text x="265.65" y="322.5" class="xl" style="font-size:7.9px" text-anchor="middle">PMI (min)</text>
<g fill="#4a4ad4" fill-opacity="0.56" stroke="#22229c" stroke-opacity="0.85" stroke-width="0.8">
<circle cx="222.5" cy="219.9" r="1.95"/>
<circle cx="254.9" cy="218.5" r="1.95"/>
<circle cx="233.9" cy="229.3" r="1.95"/>
<circle cx="258.1" cy="237.8" r="1.95"/>
<circle cx="260.1" cy="237.7" r="1.95"/>
<circle cx="261" cy="244.4" r="1.95"/>
<circle cx="224.8" cy="250.3" r="1.95"/>
<circle cx="238.8" cy="245.4" r="1.95"/>
<circle cx="240" cy="249.7" r="1.95"/>
<circle cx="239.4" cy="253.8" r="1.95"/>
<circle cx="236.3" cy="256.1" r="1.95"/>
<circle cx="243.5" cy="259.4" r="1.95"/>
<circle cx="251.1" cy="248.3" r="1.95"/>
<circle cx="251.3" cy="255.9" r="1.95"/>
<circle cx="249.3" cy="264.8" r="1.95"/>
<circle cx="248.2" cy="267.2" r="1.95"/>
<circle cx="255.4" cy="274.5" r="1.95"/>
<circle cx="252.8" cy="278.3" r="1.95"/>
<circle cx="247.6" cy="278.3" r="1.95"/>
<circle cx="267.4" cy="251.4" r="1.95"/>
<circle cx="265.3" cy="257.3" r="1.95"/>
<circle cx="262.8" cy="262.7" r="1.95"/>
<circle cx="258.7" cy="267.2" r="1.95"/>
<circle cx="266.5" cy="268.9" r="1.95"/>
<circle cx="268.6" cy="263.1" r="1.95"/>
<circle cx="267.2" cy="286.4" r="1.95"/>
<circle cx="277.8" cy="249.4" r="1.95"/>
<circle cx="271.9" cy="254.3" r="1.95"/>
<circle cx="271.9" cy="268.9" r="1.95"/>
<circle cx="275.1" cy="266.8" r="1.95"/>
<circle cx="278.2" cy="266.3" r="1.95"/>
<circle cx="276.2" cy="272.7" r="1.95"/>
<circle cx="288" cy="259.7" r="1.95"/>
<circle cx="295.9" cy="266.9" r="1.95"/>
<circle cx="307.8" cy="256.9" r="1.95"/>
<circle cx="285" cy="278" r="1.95"/>
<circle cx="274.5" cy="282.3" r="1.95"/>
</g>
<line x1="205.2" y1="240.9" x2="326.1" y2="280.3" stroke="#a0a0dc" stroke-opacity="0.7" stroke-width="0.6"/>
<rect x="233.4" y="189.7" width="63.7" height="11" fill="#fff" stroke="#8a8a8a" stroke-width="0.9"/>
<circle cx="242.4" cy="195.2" r="1.75" fill="#4a4ad4" fill-opacity="0.56" stroke="#22229c" stroke-opacity="0.85" stroke-width="0.6"/>
<text x="251.4" y="197.5" class="lg" style="font-size:6.4px" textLength="43.42" lengthAdjust="spacingAndGlyphs">TT - rs12406273</text>
<rect x="363.9" y="210.8" width="121.2" height="92.3" fill="none" stroke="#8a8a8a" stroke-width="1"/>
<text x="363.9" y="313.4" class="tk" style="font-size:6.6px" text-anchor="middle">0</text>
<line x1="401.54" y1="303.1" x2="401.54" y2="301.8" stroke="#8a8a8a" stroke-width="0.8"/>
<line x1="401.54" y1="210.8" x2="401.54" y2="212.1" stroke="#8a8a8a" stroke-width="0.8"/>
<text x="401.54" y="313.4" class="tk" style="font-size:6.6px" text-anchor="middle">500</text>
<line x1="439.18" y1="303.1" x2="439.18" y2="301.8" stroke="#8a8a8a" stroke-width="0.8"/>
<line x1="439.18" y1="210.8" x2="439.18" y2="212.1" stroke="#8a8a8a" stroke-width="0.8"/>
<text x="439.18" y="313.4" class="tk" style="font-size:6.6px" text-anchor="middle">1000</text>
<line x1="476.82" y1="303.1" x2="476.82" y2="301.8" stroke="#8a8a8a" stroke-width="0.8"/>
<line x1="476.82" y1="210.8" x2="476.82" y2="212.1" stroke="#8a8a8a" stroke-width="0.8"/>
<text x="476.82" y="313.4" class="tk" style="font-size:6.6px" text-anchor="middle">1500</text>
<line x1="363.9" y1="210.8" x2="365.2" y2="210.8" stroke="#8a8a8a" stroke-width="0.8"/>
<line x1="485.1" y1="210.8" x2="483.8" y2="210.8" stroke="#8a8a8a" stroke-width="0.8"/>
<text x="361.6" y="213.98" class="tk" style="font-size:6.6px" text-anchor="end">0.5</text>
<line x1="363.9" y1="256.95" x2="365.2" y2="256.95" stroke="#8a8a8a" stroke-width="0.8"/>
<line x1="485.1" y1="256.95" x2="483.8" y2="256.95" stroke="#8a8a8a" stroke-width="0.8"/>
<text x="361.6" y="260.13" class="tk" style="font-size:6.6px" text-anchor="end">0</text>
<line x1="363.9" y1="303.1" x2="365.2" y2="303.1" stroke="#8a8a8a" stroke-width="0.8"/>
<line x1="485.1" y1="303.1" x2="483.8" y2="303.1" stroke="#8a8a8a" stroke-width="0.8"/>
<text x="361.6" y="306.28" class="tk" style="font-size:6.6px" text-anchor="end">-0.5</text>
<text x="424.5" y="322.5" class="xl" style="font-size:7.9px" text-anchor="middle">PMI (min)</text>
<g fill="#cc3440" fill-opacity="0.56" stroke="#921a26" stroke-opacity="0.85" stroke-width="0.8">
<circle cx="385.2" cy="236.1" r="1.95"/>
<circle cx="387.5" cy="239.6" r="1.95"/>
<circle cx="410.8" cy="233.2" r="1.95"/>
<circle cx="401.9" cy="238.1" r="1.95"/>
<circle cx="404.1" cy="244.7" r="1.95"/>
<circle cx="405" cy="243.9" r="1.95"/>
<circle cx="415.9" cy="243.3" r="1.95"/>
<circle cx="420.8" cy="247.4" r="1.95"/>
<circle cx="412.2" cy="248.6" r="1.95"/>
<circle cx="386.1" cy="251.7" r="1.95"/>
<circle cx="387.5" cy="254.7" r="1.95"/>
<circle cx="402.1" cy="254.4" r="1.95"/>
<circle cx="403.8" cy="253.8" r="1.95"/>
<circle cx="405.2" cy="253" r="1.95"/>
<circle cx="404.1" cy="256.2" r="1.95"/>
<circle cx="414" cy="253.6" r="1.95"/>
<circle cx="417.6" cy="257.6" r="1.95"/>
<circle cx="393.9" cy="261.4" r="1.95"/>
<circle cx="400.7" cy="261.4" r="1.95"/>
<circle cx="403.8" cy="265.5" r="1.95"/>
<circle cx="409.7" cy="259.1" r="1.95"/>
<circle cx="411.1" cy="259.7" r="1.95"/>
<circle cx="413.2" cy="262" r="1.95"/>
<circle cx="414" cy="264.3" r="1.95"/>
<circle cx="413" cy="267" r="1.95"/>
<circle cx="418.8" cy="267.5" r="1.95"/>
<circle cx="406.2" cy="270.2" r="1.95"/>
<circle cx="385.5" cy="271" r="1.95"/>
<circle cx="402.9" cy="274.8" r="1.95"/>
<circle cx="393" cy="278.3" r="1.95"/>
<circle cx="399.9" cy="283.3" r="1.95"/>
<circle cx="426.8" cy="245.5" r="1.95"/>
<circle cx="426.6" cy="257.3" r="1.95"/>
<circle cx="426" cy="263.4" r="1.95"/>
<circle cx="427.9" cy="247.4" r="1.95"/>
<circle cx="428.8" cy="250.1" r="1.95"/>
<circle cx="434.2" cy="247.4" r="1.95"/>
<circle cx="444.5" cy="247.2" r="1.95"/>
<circle cx="450.1" cy="248.9" r="1.95"/>
<circle cx="450.1" cy="238.9" r="1.95"/>
<circle cx="471.7" cy="242.8" r="1.95"/>
<circle cx="434.6" cy="259.7" r="1.95"/>
<circle cx="435.4" cy="263.2" r="1.95"/>
<circle cx="433.7" cy="268.2" r="1.95"/>
<circle cx="434.6" cy="274" r="1.95"/>
<circle cx="439.8" cy="264.4" r="1.95"/>
<circle cx="441.2" cy="266.1" r="1.95"/>
<circle cx="443.3" cy="264.1" r="1.95"/>
<circle cx="443.7" cy="267.9" r="1.95"/>
<circle cx="447.8" cy="257.1" r="1.95"/>
<circle cx="448" cy="260.9" r="1.95"/>
<circle cx="448.4" cy="263.8" r="1.95"/>
<circle cx="451.8" cy="271" r="1.95"/>
<circle cx="469" cy="255.6" r="1.95"/>
<circle cx="472.2" cy="258.5" r="1.95"/>
<circle cx="471.4" cy="261.8" r="1.95"/>
</g>
<line x1="363.9" y1="256.2" x2="485.1" y2="258" stroke="#d8a8a8" stroke-opacity="0.5" stroke-width="0.6"/>
<rect x="392.3" y="189.7" width="64.2" height="11" fill="#fff" stroke="#8a8a8a" stroke-width="0.9"/>
<circle cx="401.4" cy="195.2" r="1.75" fill="#cc3440" fill-opacity="0.56" stroke="#921a26" stroke-opacity="0.85" stroke-width="0.6"/>
<text x="410.4" y="197.5" class="lg" style="font-size:6.4px" textLength="44.18" lengthAdjust="spacingAndGlyphs">TC - rs12406273</text>
<rect x="523.5" y="210.8" width="121" height="92.3" fill="none" stroke="#8a8a8a" stroke-width="1"/>
<text x="523.5" y="313.4" class="tk" style="font-size:6.6px" text-anchor="middle">0</text>
<line x1="561.08" y1="303.1" x2="561.08" y2="301.8" stroke="#8a8a8a" stroke-width="0.8"/>
<line x1="561.08" y1="210.8" x2="561.08" y2="212.1" stroke="#8a8a8a" stroke-width="0.8"/>
<text x="561.08" y="313.4" class="tk" style="font-size:6.6px" text-anchor="middle">500</text>
<line x1="598.66" y1="303.1" x2="598.66" y2="301.8" stroke="#8a8a8a" stroke-width="0.8"/>
<line x1="598.66" y1="210.8" x2="598.66" y2="212.1" stroke="#8a8a8a" stroke-width="0.8"/>
<text x="598.66" y="313.4" class="tk" style="font-size:6.6px" text-anchor="middle">1000</text>
<line x1="636.23" y1="303.1" x2="636.23" y2="301.8" stroke="#8a8a8a" stroke-width="0.8"/>
<line x1="636.23" y1="210.8" x2="636.23" y2="212.1" stroke="#8a8a8a" stroke-width="0.8"/>
<text x="636.23" y="313.4" class="tk" style="font-size:6.6px" text-anchor="middle">1500</text>
<line x1="523.5" y1="210.8" x2="524.8" y2="210.8" stroke="#8a8a8a" stroke-width="0.8"/>
<line x1="644.5" y1="210.8" x2="643.2" y2="210.8" stroke="#8a8a8a" stroke-width="0.8"/>
<text x="521.2" y="213.98" class="tk" style="font-size:6.6px" text-anchor="end">0.5</text>
<line x1="523.5" y1="256.95" x2="524.8" y2="256.95" stroke="#8a8a8a" stroke-width="0.8"/>
<line x1="644.5" y1="256.95" x2="643.2" y2="256.95" stroke="#8a8a8a" stroke-width="0.8"/>
<text x="521.2" y="260.13" class="tk" style="font-size:6.6px" text-anchor="end">0</text>
<line x1="523.5" y1="303.1" x2="524.8" y2="303.1" stroke="#8a8a8a" stroke-width="0.8"/>
<line x1="644.5" y1="303.1" x2="643.2" y2="303.1" stroke="#8a8a8a" stroke-width="0.8"/>
<text x="521.2" y="306.28" class="tk" style="font-size:6.6px" text-anchor="end">-0.5</text>
<text x="584" y="322.5" class="xl" style="font-size:7.9px" text-anchor="middle">PMI (min)</text>
<g fill="#a8343e" fill-opacity="0.72" stroke="#641018" stroke-opacity="0.85" stroke-width="0.8">
<circle cx="624.3" cy="243.9" r="1.95"/>
<circle cx="588.6" cy="248.4" r="1.95"/>
<circle cx="593.3" cy="244.8" r="1.95"/>
<circle cx="595.6" cy="245.7" r="1.95"/>
<circle cx="550.9" cy="256.5" r="1.95"/>
<circle cx="550" cy="259.3" r="1.95"/>
<circle cx="554.1" cy="262.7" r="1.95"/>
<circle cx="573.9" cy="259.7" r="1.95"/>
<circle cx="571.1" cy="264.4" r="1.95"/>
<circle cx="567.3" cy="269.1" r="1.95"/>
<circle cx="556.9" cy="270.3" r="1.95"/>
<circle cx="564.9" cy="274" r="1.95"/>
<circle cx="559.4" cy="277.2" r="1.95"/>
<circle cx="580.5" cy="267.2" r="1.95"/>
<circle cx="588.4" cy="272.1" r="1.95"/>
<circle cx="601.8" cy="261.2" r="1.95"/>
<circle cx="600.9" cy="263.1" r="1.95"/>
<circle cx="599.9" cy="264.6" r="1.95"/>
</g>
<path d="M623.1 242.7L625.5 245.1M623.1 245.1L625.5 242.7M587.4 247.2L589.8 249.6M587.4 249.6L589.8 247.2M592.1 243.6L594.5 246M592.1 246L594.5 243.6M594.4 244.5L596.8 246.9M594.4 246.9L596.8 244.5M549.7 255.3L552.1 257.7M549.7 257.7L552.1 255.3M548.8 258.1L551.2 260.5M548.8 260.5L551.2 258.1M552.9 261.5L555.3 263.9M552.9 263.9L555.3 261.5M572.7 258.5L575.1 260.9M572.7 260.9L575.1 258.5M569.9 263.2L572.3 265.6M569.9 265.6L572.3 263.2M566.1 267.9L568.5 270.3M566.1 270.3L568.5 267.9M555.7 269.1L558.1 271.5M555.7 271.5L558.1 269.1M563.7 272.8L566.1 275.2M563.7 275.2L566.1 272.8M558.2 276L560.6 278.4M558.2 278.4L560.6 276M579.3 266L581.7 268.4M579.3 268.4L581.7 266M587.2 270.9L589.6 273.3M587.2 273.3L589.6 270.9M600.6 260L603 262.4M600.6 262.4L603 260M599.7 261.9L602.1 264.3M599.7 264.3L602.1 261.9M598.7 263.4L601.1 265.8M598.7 265.8L601.1 263.4" stroke="#4a0c14" stroke-opacity="0.6" stroke-width="0.55" fill="none"/>
<line x1="523.5" y1="275" x2="644.5" y2="244.2" stroke="#d8a8a8" stroke-opacity="0.7" stroke-width="0.6"/>
<rect x="551.3" y="189.7" width="65.4" height="11" fill="#fff" stroke="#8a8a8a" stroke-width="0.9"/>
<circle cx="560.7" cy="195.2" r="1.75" fill="#cc3440" fill-opacity="0.56" stroke="#921a26" stroke-opacity="0.85" stroke-width="0.6"/>
<text x="569.7" y="197.5" class="lg" style="font-size:6.4px" textLength="44.84" lengthAdjust="spacingAndGlyphs">CC - rs12406273</text>
<text x="90.8" y="295.86" class="pr" style="font-size:7.1px" textLength="65.7" lengthAdjust="spacingAndGlyphs">Pearson-R = -0.10033</text>
<text x="249.9" y="296.66" class="pr" style="font-size:7.1px" textLength="65.7" lengthAdjust="spacingAndGlyphs">Pearson-R = -0.40304</text>
<text x="409.7" y="297.26" class="pr" style="font-size:7.1px" textLength="68.97" lengthAdjust="spacingAndGlyphs">Pearson-R = -0.044312</text>
<text x="568.8" y="297.16" class="pr" style="font-size:7.1px" textLength="62.43" lengthAdjust="spacingAndGlyphs">Pearson-R = 0.53186</text>
<rect x="47.2" y="378.7" width="120.2" height="118.4" fill="none" stroke="#8a8a8a" stroke-width="1"/>
<text x="47.2" y="507.1" class="tk" style="font-size:7.0px" text-anchor="middle">0</text>
<line x1="84.53" y1="497.1" x2="84.53" y2="495.8" stroke="#8a8a8a" stroke-width="0.8"/>
<line x1="84.53" y1="378.7" x2="84.53" y2="380" stroke="#8a8a8a" stroke-width="0.8"/>
<text x="84.53" y="507.1" class="tk" style="font-size:7.0px" text-anchor="middle">500</text>
<line x1="121.86" y1="497.1" x2="121.86" y2="495.8" stroke="#8a8a8a" stroke-width="0.8"/>
<line x1="121.86" y1="378.7" x2="121.86" y2="380" stroke="#8a8a8a" stroke-width="0.8"/>
<text x="121.86" y="507.1" class="tk" style="font-size:7.0px" text-anchor="middle">1000</text>
<line x1="159.19" y1="497.1" x2="159.19" y2="495.8" stroke="#8a8a8a" stroke-width="0.8"/>
<line x1="159.19" y1="378.7" x2="159.19" y2="380" stroke="#8a8a8a" stroke-width="0.8"/>
<text x="159.19" y="507.1" class="tk" style="font-size:7.0px" text-anchor="middle">1500</text>
<line x1="47.2" y1="378.7" x2="48.5" y2="378.7" stroke="#8a8a8a" stroke-width="0.8"/>
<line x1="167.4" y1="378.7" x2="166.1" y2="378.7" stroke="#8a8a8a" stroke-width="0.8"/>
<text x="44.9" y="381.71" class="tk" style="font-size:7.0px" text-anchor="end">0.5</text>
<line x1="47.2" y1="437.9" x2="48.5" y2="437.9" stroke="#8a8a8a" stroke-width="0.8"/>
<line x1="167.4" y1="437.9" x2="166.1" y2="437.9" stroke="#8a8a8a" stroke-width="0.8"/>
<text x="44.9" y="440.91" class="tk" style="font-size:7.0px" text-anchor="end">0</text>
<line x1="47.2" y1="497.1" x2="48.5" y2="497.1" stroke="#8a8a8a" stroke-width="0.8"/>
<line x1="167.4" y1="497.1" x2="166.1" y2="497.1" stroke="#8a8a8a" stroke-width="0.8"/>
<text x="44.9" y="500.11" class="tk" style="font-size:7.0px" text-anchor="end">-0.5</text>
<text x="107.3" y="516.5" class="xl" style="font-size:8.2px" text-anchor="middle">PMI (min)</text>
<g fill="#4a4ad4" fill-opacity="0.56" stroke="#22229c" stroke-opacity="0.85" stroke-width="0.8">
<circle cx="97.56" cy="414.75" r="2.15"/>
<circle cx="96.66" cy="419.69" r="2.15"/>
<circle cx="82.87" cy="419.69" r="2.15"/>
<circle cx="72.98" cy="424.01" r="2.15"/>
<circle cx="58.79" cy="431.42" r="2.15"/>
<circle cx="65.78" cy="432.65" r="2.15"/>
<circle cx="84.37" cy="430.92" r="2.15"/>
<circle cx="89.46" cy="430.55" r="2.15"/>
<circle cx="108.35" cy="435" r="2.15"/>
<circle cx="97.06" cy="436.23" r="2.15"/>
<circle cx="99.56" cy="441.05" r="2.15"/>
<circle cx="74.48" cy="438.46" r="2.15"/>
<circle cx="81.87" cy="438.83" r="2.15"/>
<circle cx="83.07" cy="442.41" r="2.15"/>
<circle cx="65.19" cy="442.41" r="2.15"/>
<circle cx="66.88" cy="443.89" r="2.15"/>
<circle cx="68.68" cy="445.12" r="2.15"/>
<circle cx="72.18" cy="445.37" r="2.15"/>
<circle cx="73.38" cy="443.15" r="2.15"/>
<circle cx="76.88" cy="444.63" r="2.15"/>
<circle cx="61.09" cy="447.1" r="2.15"/>
<circle cx="89.07" cy="445.37" r="2.15"/>
<circle cx="91.36" cy="443.89" r="2.15"/>
<circle cx="93.16" cy="444.13" r="2.15"/>
<circle cx="88.87" cy="450.8" r="2.15"/>
<circle cx="100.96" cy="447.47" r="2.15"/>
<circle cx="105.95" cy="447.47" r="2.15"/>
<circle cx="71.38" cy="452.53" r="2.15"/>
<circle cx="72.18" cy="455.12" r="2.15"/>
<circle cx="73.38" cy="457.22" r="2.15"/>
<circle cx="88.27" cy="460.93" r="2.15"/>
<circle cx="102.85" cy="459.07" r="2.15"/>
<circle cx="66.88" cy="464.14" r="2.15"/>
<circle cx="59.89" cy="473.02" r="2.15"/>
<circle cx="115.54" cy="399.19" r="2.15"/>
<circle cx="116.14" cy="408.21" r="2.15"/>
<circle cx="120.54" cy="412.16" r="2.15"/>
<circle cx="152.01" cy="400.92" r="2.15"/>
<circle cx="113.54" cy="430.43" r="2.15"/>
<circle cx="144.02" cy="443.15" r="2.15"/>
</g>
<g fill="#cc3440" fill-opacity="0.56" stroke="#921a26" stroke-opacity="0.85" stroke-width="0.8">
<circle cx="55.83" cy="431.29" r="2.15"/>
<circle cx="57.23" cy="435.62" r="2.15"/>
<circle cx="73.59" cy="419.07" r="2.15"/>
<circle cx="75.69" cy="417.1" r="2.15"/>
<circle cx="69.98" cy="426.11" r="2.15"/>
<circle cx="78.91" cy="426.73" r="2.15"/>
<circle cx="76.3" cy="430.06" r="2.15"/>
<circle cx="73.19" cy="431.29" r="2.15"/>
<circle cx="72.68" cy="435.62" r="2.15"/>
<circle cx="67.67" cy="437.22" r="2.15"/>
<circle cx="83.22" cy="427.34" r="2.15"/>
<circle cx="84.22" cy="430.06" r="2.15"/>
<circle cx="80.31" cy="435" r="2.15"/>
<circle cx="82.32" cy="434.13" r="2.15"/>
<circle cx="89.74" cy="427.1" r="2.15"/>
<circle cx="91.15" cy="422.65" r="2.15"/>
<circle cx="95.76" cy="423.15" r="2.15"/>
<circle cx="96.66" cy="431.29" r="2.15"/>
<circle cx="100.38" cy="434.26" r="2.15"/>
<circle cx="94.76" cy="438.33" r="2.15"/>
<circle cx="70.78" cy="441.54" r="2.15"/>
<circle cx="72.68" cy="443.27" r="2.15"/>
<circle cx="67.87" cy="443.27" r="2.15"/>
<circle cx="66.87" cy="446.23" r="2.15"/>
<circle cx="65.96" cy="450.18" r="2.15"/>
<circle cx="82.72" cy="440.92" r="2.15"/>
<circle cx="84.72" cy="442.78" r="2.15"/>
<circle cx="87.03" cy="442.16" r="2.15"/>
<circle cx="89.04" cy="442.78" r="2.15"/>
<circle cx="89.94" cy="445.12" r="2.15"/>
<circle cx="90.95" cy="446.85" r="2.15"/>
<circle cx="81.82" cy="445.12" r="2.15"/>
<circle cx="80.81" cy="452.78" r="2.15"/>
<circle cx="74.09" cy="454.51" r="2.15"/>
<circle cx="90.44" cy="452.53" r="2.15"/>
<circle cx="98.57" cy="442.78" r="2.15"/>
<circle cx="101.48" cy="442.78" r="2.15"/>
<circle cx="102.48" cy="445.74" r="2.15"/>
<circle cx="97.67" cy="448.09" r="2.15"/>
<circle cx="100.08" cy="449.2" r="2.15"/>
<circle cx="100.58" cy="454.51" r="2.15"/>
<circle cx="104.89" cy="440.68" r="2.15"/>
<circle cx="106.3" cy="451.54" r="2.15"/>
<circle cx="106.8" cy="423.39" r="2.15"/>
<circle cx="108.91" cy="427.84" r="2.15"/>
<circle cx="111.71" cy="429.81" r="2.15"/>
<circle cx="121.85" cy="424.87" r="2.15"/>
<circle cx="128.17" cy="427.47" r="2.15"/>
<circle cx="111.41" cy="436.73" r="2.15"/>
<circle cx="116.93" cy="437.71" r="2.15"/>
<circle cx="123.45" cy="435.37" r="2.15"/>
<circle cx="121.65" cy="439.94" r="2.15"/>
<circle cx="138.8" cy="438.33" r="2.15"/>
<circle cx="127.07" cy="441.54" r="2.15"/>
<circle cx="130.98" cy="444.13" r="2.15"/>
<circle cx="127.87" cy="446.6" r="2.15"/>
<circle cx="142.62" cy="445.37" r="2.15"/>
<circle cx="146.53" cy="444.13" r="2.15"/>
<circle cx="148.64" cy="444.13" r="2.15"/>
<circle cx="115.43" cy="450.8" r="2.15"/>
<circle cx="114.83" cy="453.64" r="2.15"/>
<circle cx="119.74" cy="459.69" r="2.15"/>
<circle cx="134.59" cy="460.93" r="2.15"/>
</g>
<g fill="#a82a2a" fill-opacity="0.72" stroke="#701414" stroke-opacity="0.85" stroke-width="0.8">
<circle cx="66.55" cy="406.48" r="2.15"/>
<circle cx="78.78" cy="404.38" r="2.15"/>
<circle cx="72.16" cy="410.92" r="2.15"/>
<circle cx="63.34" cy="420.31" r="2.15"/>
<circle cx="63.94" cy="425" r="2.15"/>
<circle cx="72.16" cy="421.54" r="2.15"/>
<circle cx="95.82" cy="417.59" r="2.15"/>
<circle cx="85.5" cy="423.15" r="2.15"/>
<circle cx="91.51" cy="425" r="2.15"/>
<circle cx="104.64" cy="423.15" r="2.15"/>
<circle cx="107.45" cy="425" r="2.15"/>
<circle cx="106.15" cy="427.71" r="2.15"/>
<circle cx="102.14" cy="429.57" r="2.15"/>
<circle cx="96.22" cy="431.17" r="2.15"/>
<circle cx="113.47" cy="427.22" r="2.15"/>
<circle cx="113.97" cy="430.68" r="2.15"/>
<circle cx="114.97" cy="433.02" r="2.15"/>
<circle cx="112.16" cy="434.13" r="2.15"/>
<circle cx="76.07" cy="436.97" r="2.15"/>
<circle cx="84.89" cy="438.83" r="2.15"/>
<circle cx="84.89" cy="440.68" r="2.15"/>
<circle cx="85.5" cy="444.63" r="2.15"/>
<circle cx="85.5" cy="446.23" r="2.15"/>
<circle cx="105.14" cy="438.83" r="2.15"/>
<circle cx="110.26" cy="442.78" r="2.15"/>
<circle cx="112.46" cy="443.89" r="2.15"/>
<circle cx="123.39" cy="438.83" r="2.15"/>
<circle cx="126.6" cy="436.48" r="2.15"/>
<circle cx="137.83" cy="439.94" r="2.15"/>
<circle cx="137.02" cy="442.28" r="2.15"/>
<circle cx="143.04" cy="446.23" r="2.15"/>
<circle cx="126.2" cy="447.34" r="2.15"/>
<circle cx="129.61" cy="451.05" r="2.15"/>
<circle cx="91.11" cy="450.31" r="2.15"/>
<circle cx="100.33" cy="448.7" r="2.15"/>
<circle cx="105.04" cy="451.91" r="2.15"/>
<circle cx="106.15" cy="453.76" r="2.15"/>
<circle cx="107.95" cy="450.31" r="2.15"/>
<circle cx="112.66" cy="458.95" r="2.15"/>
<circle cx="140.23" cy="454.51" r="2.15"/>
</g>
<line x1="47.2" y1="454.9" x2="167.4" y2="407.8" stroke="#7878e0" stroke-opacity="0.9" stroke-width="0.6"/>
<line x1="47.2" y1="428.9" x2="167.4" y2="450.2" stroke="#d05050" stroke-opacity="0.7" stroke-width="0.6"/>
<text x="107.3" y="376.1" class="ti" style="font-size:10.6px" text-anchor="middle">rs1521177</text>
<text transform="translate(15,440.6) rotate(-90)" class="yl" style="font-size:9.2px" text-anchor="middle">Whole Blood</text>
<text transform="translate(27.4,440.6) rotate(-90)" class="yl" style="font-size:9.2px" text-anchor="middle">residual expression</text>
<rect x="206.1" y="401.2" width="120.3" height="95.9" fill="none" stroke="#8a8a8a" stroke-width="1"/>
<text x="206.1" y="507.1" class="tk" style="font-size:7.0px" text-anchor="middle">0</text>
<line x1="243.46" y1="497.1" x2="243.46" y2="495.8" stroke="#8a8a8a" stroke-width="0.8"/>
<line x1="243.46" y1="401.2" x2="243.46" y2="402.5" stroke="#8a8a8a" stroke-width="0.8"/>
<text x="243.46" y="507.1" class="tk" style="font-size:7.0px" text-anchor="middle">500</text>
<line x1="280.82" y1="497.1" x2="280.82" y2="495.8" stroke="#8a8a8a" stroke-width="0.8"/>
<line x1="280.82" y1="401.2" x2="280.82" y2="402.5" stroke="#8a8a8a" stroke-width="0.8"/>
<text x="280.82" y="507.1" class="tk" style="font-size:7.0px" text-anchor="middle">1000</text>
<line x1="318.18" y1="497.1" x2="318.18" y2="495.8" stroke="#8a8a8a" stroke-width="0.8"/>
<line x1="318.18" y1="401.2" x2="318.18" y2="402.5" stroke="#8a8a8a" stroke-width="0.8"/>
<text x="318.18" y="507.1" class="tk" style="font-size:7.0px" text-anchor="middle">1500</text>
<line x1="206.1" y1="401.2" x2="207.4" y2="401.2" stroke="#8a8a8a" stroke-width="0.8"/>
<line x1="326.4" y1="401.2" x2="325.1" y2="401.2" stroke="#8a8a8a" stroke-width="0.8"/>
<text x="203.8" y="404.21" class="tk" style="font-size:7.0px" text-anchor="end">0.5</text>
<line x1="206.1" y1="449.15" x2="207.4" y2="449.15" stroke="#8a8a8a" stroke-width="0.8"/>
<line x1="326.4" y1="449.15" x2="325.1" y2="449.15" stroke="#8a8a8a" stroke-width="0.8"/>
<text x="203.8" y="452.16" class="tk" style="font-size:7.0px" text-anchor="end">0</text>
<line x1="206.1" y1="497.1" x2="207.4" y2="497.1" stroke="#8a8a8a" stroke-width="0.8"/>
<line x1="326.4" y1="497.1" x2="325.1" y2="497.1" stroke="#8a8a8a" stroke-width="0.8"/>
<text x="203.8" y="500.11" class="tk" style="font-size:7.0px" text-anchor="end">-0.5</text>
<text x="266.25" y="516.5" class="xl" style="font-size:8.2px" text-anchor="middle">PMI (min)</text>
<g fill="#4a4ad4" fill-opacity="0.56" stroke="#22229c" stroke-opacity="0.85" stroke-width="0.8">
<circle cx="256.5" cy="430.4" r="2.15"/>
<circle cx="255.6" cy="434.4" r="2.15"/>
<circle cx="241.8" cy="434.4" r="2.15"/>
<circle cx="231.9" cy="437.9" r="2.15"/>
<circle cx="217.7" cy="443.9" r="2.15"/>
<circle cx="224.7" cy="444.9" r="2.15"/>
<circle cx="243.3" cy="443.5" r="2.15"/>
<circle cx="248.4" cy="443.2" r="2.15"/>
<circle cx="267.3" cy="446.8" r="2.15"/>
<circle cx="256" cy="447.8" r="2.15"/>
<circle cx="258.5" cy="451.7" r="2.15"/>
<circle cx="233.4" cy="449.6" r="2.15"/>
<circle cx="240.8" cy="449.9" r="2.15"/>
<circle cx="242" cy="452.8" r="2.15"/>
<circle cx="224.1" cy="452.8" r="2.15"/>
<circle cx="225.8" cy="454" r="2.15"/>
<circle cx="227.6" cy="455" r="2.15"/>
<circle cx="231.1" cy="455.2" r="2.15"/>
<circle cx="232.3" cy="453.4" r="2.15"/>
<circle cx="235.8" cy="454.6" r="2.15"/>
<circle cx="220" cy="456.6" r="2.15"/>
<circle cx="248" cy="455.2" r="2.15"/>
<circle cx="250.3" cy="454" r="2.15"/>
<circle cx="252.1" cy="454.2" r="2.15"/>
<circle cx="247.8" cy="459.6" r="2.15"/>
<circle cx="259.9" cy="456.9" r="2.15"/>
<circle cx="264.9" cy="456.9" r="2.15"/>
<circle cx="230.3" cy="461" r="2.15"/>
<circle cx="231.1" cy="463.1" r="2.15"/>
<circle cx="232.3" cy="464.8" r="2.15"/>
<circle cx="247.2" cy="467.8" r="2.15"/>
<circle cx="261.8" cy="466.3" r="2.15"/>
<circle cx="225.8" cy="470.4" r="2.15"/>
<circle cx="218.8" cy="477.6" r="2.15"/>
<circle cx="274.5" cy="417.8" r="2.15"/>
<circle cx="275.1" cy="425.1" r="2.15"/>
<circle cx="279.5" cy="428.3" r="2.15"/>
<circle cx="311" cy="419.2" r="2.15"/>
<circle cx="272.5" cy="443.1" r="2.15"/>
<circle cx="303" cy="453.4" r="2.15"/>
</g>
<line x1="206.1" y1="462.2" x2="326.4" y2="424.7" stroke="#8888e0" stroke-opacity="0.9" stroke-width="0.6"/>
<rect x="229.6" y="378.3" width="73" height="11.8" fill="#fff" stroke="#8a8a8a" stroke-width="0.9"/>
<circle cx="243.8" cy="384.2" r="2.1" fill="#4a4ad4" fill-opacity="0.56" stroke="#22229c" stroke-opacity="0.85" stroke-width="0.6"/>
<text x="256.4" y="386.58" class="lg" style="font-size:6.6px" textLength="42.85" lengthAdjust="spacingAndGlyphs">GG - rs1521177</text>
<rect x="365.5" y="401.2" width="119.8" height="95.9" fill="none" stroke="#8a8a8a" stroke-width="1"/>
<text x="365.5" y="507.1" class="tk" style="font-size:7.0px" text-anchor="middle">0</text>
<line x1="402.7" y1="497.1" x2="402.7" y2="495.8" stroke="#8a8a8a" stroke-width="0.8"/>
<line x1="402.7" y1="401.2" x2="402.7" y2="402.5" stroke="#8a8a8a" stroke-width="0.8"/>
<text x="402.7" y="507.1" class="tk" style="font-size:7.0px" text-anchor="middle">500</text>
<line x1="439.91" y1="497.1" x2="439.91" y2="495.8" stroke="#8a8a8a" stroke-width="0.8"/>
<line x1="439.91" y1="401.2" x2="439.91" y2="402.5" stroke="#8a8a8a" stroke-width="0.8"/>
<text x="439.91" y="507.1" class="tk" style="font-size:7.0px" text-anchor="middle">1000</text>
<line x1="477.11" y1="497.1" x2="477.11" y2="495.8" stroke="#8a8a8a" stroke-width="0.8"/>
<line x1="477.11" y1="401.2" x2="477.11" y2="402.5" stroke="#8a8a8a" stroke-width="0.8"/>
<text x="477.11" y="507.1" class="tk" style="font-size:7.0px" text-anchor="middle">1500</text>
<line x1="365.5" y1="401.2" x2="366.8" y2="401.2" stroke="#8a8a8a" stroke-width="0.8"/>
<line x1="485.3" y1="401.2" x2="484" y2="401.2" stroke="#8a8a8a" stroke-width="0.8"/>
<text x="363.2" y="404.21" class="tk" style="font-size:7.0px" text-anchor="end">0.5</text>
<line x1="365.5" y1="449.15" x2="366.8" y2="449.15" stroke="#8a8a8a" stroke-width="0.8"/>
<line x1="485.3" y1="449.15" x2="484" y2="449.15" stroke="#8a8a8a" stroke-width="0.8"/>
<text x="363.2" y="452.16" class="tk" style="font-size:7.0px" text-anchor="end">0</text>
<line x1="365.5" y1="497.1" x2="366.8" y2="497.1" stroke="#8a8a8a" stroke-width="0.8"/>
<line x1="485.3" y1="497.1" x2="484" y2="497.1" stroke="#8a8a8a" stroke-width="0.8"/>
<text x="363.2" y="500.11" class="tk" style="font-size:7.0px" text-anchor="end">-0.5</text>
<text x="425.4" y="516.5" class="xl" style="font-size:8.2px" text-anchor="middle">PMI (min)</text>
<g fill="#cc3440" fill-opacity="0.56" stroke="#921a26" stroke-opacity="0.85" stroke-width="0.8">
<circle cx="374.1" cy="443.8" r="2.15"/>
<circle cx="375.5" cy="447.3" r="2.15"/>
<circle cx="391.8" cy="433.9" r="2.15"/>
<circle cx="393.9" cy="432.3" r="2.15"/>
<circle cx="388.2" cy="439.6" r="2.15"/>
<circle cx="397.1" cy="440.1" r="2.15"/>
<circle cx="394.5" cy="442.8" r="2.15"/>
<circle cx="391.4" cy="443.8" r="2.15"/>
<circle cx="390.9" cy="447.3" r="2.15"/>
<circle cx="385.9" cy="448.6" r="2.15"/>
<circle cx="401.4" cy="440.6" r="2.15"/>
<circle cx="402.4" cy="442.8" r="2.15"/>
<circle cx="398.5" cy="446.8" r="2.15"/>
<circle cx="400.5" cy="446.1" r="2.15"/>
<circle cx="407.9" cy="440.4" r="2.15"/>
<circle cx="409.3" cy="436.8" r="2.15"/>
<circle cx="413.9" cy="437.2" r="2.15"/>
<circle cx="414.8" cy="443.8" r="2.15"/>
<circle cx="418.5" cy="446.2" r="2.15"/>
<circle cx="412.9" cy="449.5" r="2.15"/>
<circle cx="389" cy="452.1" r="2.15"/>
<circle cx="390.9" cy="453.5" r="2.15"/>
<circle cx="386.1" cy="453.5" r="2.15"/>
<circle cx="385.1" cy="455.9" r="2.15"/>
<circle cx="384.2" cy="459.1" r="2.15"/>
<circle cx="400.9" cy="451.6" r="2.15"/>
<circle cx="402.9" cy="453.1" r="2.15"/>
<circle cx="405.2" cy="452.6" r="2.15"/>
<circle cx="407.2" cy="453.1" r="2.15"/>
<circle cx="408.1" cy="455" r="2.15"/>
<circle cx="409.1" cy="456.4" r="2.15"/>
<circle cx="400" cy="455" r="2.15"/>
<circle cx="399" cy="461.2" r="2.15"/>
<circle cx="392.3" cy="462.6" r="2.15"/>
<circle cx="408.6" cy="461" r="2.15"/>
<circle cx="416.7" cy="453.1" r="2.15"/>
<circle cx="419.6" cy="453.1" r="2.15"/>
<circle cx="420.6" cy="455.5" r="2.15"/>
<circle cx="415.8" cy="457.4" r="2.15"/>
<circle cx="418.2" cy="458.3" r="2.15"/>
<circle cx="418.7" cy="462.6" r="2.15"/>
<circle cx="423" cy="451.4" r="2.15"/>
<circle cx="424.4" cy="460.2" r="2.15"/>
<circle cx="424.9" cy="437.4" r="2.15"/>
<circle cx="427" cy="441" r="2.15"/>
<circle cx="429.8" cy="442.6" r="2.15"/>
<circle cx="439.9" cy="438.6" r="2.15"/>
<circle cx="446.2" cy="440.7" r="2.15"/>
<circle cx="429.5" cy="448.2" r="2.15"/>
<circle cx="435" cy="449" r="2.15"/>
<circle cx="441.5" cy="447.1" r="2.15"/>
<circle cx="439.7" cy="450.8" r="2.15"/>
<circle cx="456.8" cy="449.5" r="2.15"/>
<circle cx="445.1" cy="452.1" r="2.15"/>
<circle cx="449" cy="454.2" r="2.15"/>
<circle cx="445.9" cy="456.2" r="2.15"/>
<circle cx="460.6" cy="455.2" r="2.15"/>
<circle cx="464.5" cy="454.2" r="2.15"/>
<circle cx="466.6" cy="454.2" r="2.15"/>
<circle cx="433.5" cy="459.6" r="2.15"/>
<circle cx="432.9" cy="461.9" r="2.15"/>
<circle cx="437.8" cy="466.8" r="2.15"/>
<circle cx="452.6" cy="467.8" r="2.15"/>
</g>
<line x1="365.5" y1="446.4" x2="485.3" y2="456.2" stroke="#d8a8a8" stroke-opacity="0.6" stroke-width="0.6"/>
<rect x="389.6" y="378.3" width="71.6" height="11.8" fill="#fff" stroke="#8a8a8a" stroke-width="0.9"/>
<circle cx="403.8" cy="384.2" r="2.1" fill="#cc3440" fill-opacity="0.56" stroke="#921a26" stroke-opacity="0.85" stroke-width="0.6"/>
<text x="416.4" y="386.58" class="lg" style="font-size:6.6px" textLength="41.73" lengthAdjust="spacingAndGlyphs">GT - rs1521177</text>
<rect x="524.7" y="401.2" width="119.9" height="95.9" fill="none" stroke="#8a8a8a" stroke-width="1"/>
<text x="524.7" y="507.1" class="tk" style="font-size:7.0px" text-anchor="middle">0</text>
<line x1="561.94" y1="497.1" x2="561.94" y2="495.8" stroke="#8a8a8a" stroke-width="0.8"/>
<line x1="561.94" y1="401.2" x2="561.94" y2="402.5" stroke="#8a8a8a" stroke-width="0.8"/>
<text x="561.94" y="507.1" class="tk" style="font-size:7.0px" text-anchor="middle">500</text>
<line x1="599.17" y1="497.1" x2="599.17" y2="495.8" stroke="#8a8a8a" stroke-width="0.8"/>
<line x1="599.17" y1="401.2" x2="599.17" y2="402.5" stroke="#8a8a8a" stroke-width="0.8"/>
<text x="599.17" y="507.1" class="tk" style="font-size:7.0px" text-anchor="middle">1000</text>
<line x1="636.41" y1="497.1" x2="636.41" y2="495.8" stroke="#8a8a8a" stroke-width="0.8"/>
<line x1="636.41" y1="401.2" x2="636.41" y2="402.5" stroke="#8a8a8a" stroke-width="0.8"/>
<text x="636.41" y="507.1" class="tk" style="font-size:7.0px" text-anchor="middle">1500</text>
<line x1="524.7" y1="401.2" x2="526" y2="401.2" stroke="#8a8a8a" stroke-width="0.8"/>
<line x1="644.6" y1="401.2" x2="643.3" y2="401.2" stroke="#8a8a8a" stroke-width="0.8"/>
<text x="522.4" y="404.21" class="tk" style="font-size:7.0px" text-anchor="end">0.5</text>
<line x1="524.7" y1="449.15" x2="526" y2="449.15" stroke="#8a8a8a" stroke-width="0.8"/>
<line x1="644.6" y1="449.15" x2="643.3" y2="449.15" stroke="#8a8a8a" stroke-width="0.8"/>
<text x="522.4" y="452.16" class="tk" style="font-size:7.0px" text-anchor="end">0</text>
<line x1="524.7" y1="497.1" x2="526" y2="497.1" stroke="#8a8a8a" stroke-width="0.8"/>
<line x1="644.6" y1="497.1" x2="643.3" y2="497.1" stroke="#8a8a8a" stroke-width="0.8"/>
<text x="522.4" y="500.11" class="tk" style="font-size:7.0px" text-anchor="end">-0.5</text>
<text x="584.65" y="516.5" class="xl" style="font-size:8.2px" text-anchor="middle">PMI (min)</text>
<g fill="#a8343e" fill-opacity="0.72" stroke="#641018" stroke-opacity="0.85" stroke-width="0.8">
<circle cx="544" cy="423.7" r="2.15"/>
<circle cx="556.2" cy="422" r="2.15"/>
<circle cx="549.6" cy="427.3" r="2.15"/>
<circle cx="540.8" cy="434.9" r="2.15"/>
<circle cx="541.4" cy="438.7" r="2.15"/>
<circle cx="549.6" cy="435.9" r="2.15"/>
<circle cx="573.2" cy="432.7" r="2.15"/>
<circle cx="562.9" cy="437.2" r="2.15"/>
<circle cx="568.9" cy="438.7" r="2.15"/>
<circle cx="582" cy="437.2" r="2.15"/>
<circle cx="584.8" cy="438.7" r="2.15"/>
<circle cx="583.5" cy="440.9" r="2.15"/>
<circle cx="579.5" cy="442.4" r="2.15"/>
<circle cx="573.6" cy="443.7" r="2.15"/>
<circle cx="590.8" cy="440.5" r="2.15"/>
<circle cx="591.3" cy="443.3" r="2.15"/>
<circle cx="592.3" cy="445.2" r="2.15"/>
<circle cx="589.5" cy="446.1" r="2.15"/>
<circle cx="553.5" cy="448.4" r="2.15"/>
<circle cx="562.3" cy="449.9" r="2.15"/>
<circle cx="562.3" cy="451.4" r="2.15"/>
<circle cx="562.9" cy="454.6" r="2.15"/>
<circle cx="562.9" cy="455.9" r="2.15"/>
<circle cx="582.5" cy="449.9" r="2.15"/>
<circle cx="587.6" cy="453.1" r="2.15"/>
<circle cx="589.8" cy="454" r="2.15"/>
<circle cx="600.7" cy="449.9" r="2.15"/>
<circle cx="603.9" cy="448" r="2.15"/>
<circle cx="615.1" cy="450.8" r="2.15"/>
<circle cx="614.3" cy="452.7" r="2.15"/>
<circle cx="620.3" cy="455.9" r="2.15"/>
<circle cx="603.5" cy="456.8" r="2.15"/>
<circle cx="606.9" cy="459.8" r="2.15"/>
<circle cx="568.5" cy="459.2" r="2.15"/>
<circle cx="577.7" cy="457.9" r="2.15"/>
<circle cx="582.4" cy="460.5" r="2.15"/>
<circle cx="583.5" cy="462" r="2.15"/>
<circle cx="585.3" cy="459.2" r="2.15"/>
<circle cx="590" cy="466.2" r="2.15"/>
<circle cx="617.5" cy="462.6" r="2.15"/>
</g>
<path d="M542.8 422.5L545.2 424.9M542.8 424.9L545.2 422.5M555 420.8L557.4 423.2M555 423.2L557.4 420.8M548.4 426.1L550.8 428.5M548.4 428.5L550.8 426.1M539.6 433.7L542 436.1M539.6 436.1L542 433.7M540.2 437.5L542.6 439.9M540.2 439.9L542.6 437.5M548.4 434.7L550.8 437.1M548.4 437.1L550.8 434.7M572 431.5L574.4 433.9M572 433.9L574.4 431.5M561.7 436L564.1 438.4M561.7 438.4L564.1 436M567.7 437.5L570.1 439.9M567.7 439.9L570.1 437.5M580.8 436L583.2 438.4M580.8 438.4L583.2 436M583.6 437.5L586 439.9M583.6 439.9L586 437.5M582.3 439.7L584.7 442.1M582.3 442.1L584.7 439.7M578.3 441.2L580.7 443.6M578.3 443.6L580.7 441.2M572.4 442.5L574.8 444.9M572.4 444.9L574.8 442.5M589.6 439.3L592 441.7M589.6 441.7L592 439.3M590.1 442.1L592.5 444.5M590.1 444.5L592.5 442.1M591.1 444L593.5 446.4M591.1 446.4L593.5 444M588.3 444.9L590.7 447.3M588.3 447.3L590.7 444.9M552.3 447.2L554.7 449.6M552.3 449.6L554.7 447.2M561.1 448.7L563.5 451.1M561.1 451.1L563.5 448.7M561.1 450.2L563.5 452.6M561.1 452.6L563.5 450.2M561.7 453.4L564.1 455.8M561.7 455.8L564.1 453.4M561.7 454.7L564.1 457.1M561.7 457.1L564.1 454.7M581.3 448.7L583.7 451.1M581.3 451.1L583.7 448.7M586.4 451.9L588.8 454.3M586.4 454.3L588.8 451.9M588.6 452.8L591 455.2M588.6 455.2L591 452.8M599.5 448.7L601.9 451.1M599.5 451.1L601.9 448.7M602.7 446.8L605.1 449.2M602.7 449.2L605.1 446.8M613.9 449.6L616.3 452M613.9 452L616.3 449.6M613.1 451.5L615.5 453.9M613.1 453.9L615.5 451.5M619.1 454.7L621.5 457.1M619.1 457.1L621.5 454.7M602.3 455.6L604.7 458M602.3 458L604.7 455.6M605.7 458.6L608.1 461M605.7 461L608.1 458.6M567.3 458L569.7 460.4M567.3 460.4L569.7 458M576.5 456.7L578.9 459.1M576.5 459.1L578.9 456.7M581.2 459.3L583.6 461.7M581.2 461.7L583.6 459.3M582.3 460.8L584.7 463.2M582.3 463.2L584.7 460.8M584.1 458L586.5 460.4M584.1 460.4L586.5 458M588.8 465L591.2 467.4M588.8 467.4L591.2 465M616.3 461.4L618.7 463.8M616.3 463.8L618.7 461.4" stroke="#4a0c14" stroke-opacity="0.6" stroke-width="0.55" fill="none"/>
<line x1="524.7" y1="432.1" x2="644.6" y2="465.2" stroke="#d88888" stroke-opacity="0.9" stroke-width="0.6"/>
<rect x="549.4" y="378.3" width="70.5" height="11.8" fill="#fff" stroke="#8a8a8a" stroke-width="0.9"/>
<circle cx="564" cy="384.2" r="2.1" fill="#cc3440" fill-opacity="0.56" stroke="#921a26" stroke-opacity="0.85" stroke-width="0.6"/>
<text x="576.6" y="386.58" class="lg" style="font-size:6.6px" textLength="40.72" lengthAdjust="spacingAndGlyphs">TT - rs1521177</text>
<text x="92.2" y="488.56" class="pr" style="font-size:7.4px" textLength="70.44" lengthAdjust="spacingAndGlyphs">Pearson-R = -0.033226</text>
<text x="251.1" y="490.46" class="pr" style="font-size:7.4px" textLength="63.76" lengthAdjust="spacingAndGlyphs">Pearson-R = 0.52928</text>
<text x="410.5" y="490.76" class="pr" style="font-size:7.4px" textLength="67.1" lengthAdjust="spacingAndGlyphs">Pearson-R = -0.22783</text>
<text x="569.6" y="490.76" class="pr" style="font-size:7.4px" textLength="67.1" lengthAdjust="spacingAndGlyphs">Pearson-R = -0.55887</text>
<rect x="47.3" y="544.2" width="121.1" height="118.2" fill="none" stroke="#8a8a8a" stroke-width="1"/>
<text x="47.3" y="672.9" class="tk" style="font-size:7.0px" text-anchor="middle">0</text>
<line x1="84.91" y1="662.4" x2="84.91" y2="661.1" stroke="#8a8a8a" stroke-width="0.8"/>
<line x1="84.91" y1="544.2" x2="84.91" y2="545.5" stroke="#8a8a8a" stroke-width="0.8"/>
<text x="84.91" y="672.9" class="tk" style="font-size:7.0px" text-anchor="middle">500</text>
<line x1="122.52" y1="662.4" x2="122.52" y2="661.1" stroke="#8a8a8a" stroke-width="0.8"/>
<line x1="122.52" y1="544.2" x2="122.52" y2="545.5" stroke="#8a8a8a" stroke-width="0.8"/>
<text x="122.52" y="672.9" class="tk" style="font-size:7.0px" text-anchor="middle">1000</text>
<line x1="160.13" y1="662.4" x2="160.13" y2="661.1" stroke="#8a8a8a" stroke-width="0.8"/>
<line x1="160.13" y1="544.2" x2="160.13" y2="545.5" stroke="#8a8a8a" stroke-width="0.8"/>
<text x="160.13" y="672.9" class="tk" style="font-size:7.0px" text-anchor="middle">1500</text>
<line x1="47.3" y1="544.2" x2="48.6" y2="544.2" stroke="#8a8a8a" stroke-width="0.8"/>
<line x1="168.4" y1="544.2" x2="167.1" y2="544.2" stroke="#8a8a8a" stroke-width="0.8"/>
<text x="45" y="547.51" class="tk" style="font-size:7.0px" text-anchor="end">1</text>
<line x1="47.3" y1="577.03" x2="48.6" y2="577.03" stroke="#8a8a8a" stroke-width="0.8"/>
<line x1="168.4" y1="577.03" x2="167.1" y2="577.03" stroke="#8a8a8a" stroke-width="0.8"/>
<text x="45" y="580.34" class="tk" style="font-size:7.0px" text-anchor="end">0.5</text>
<line x1="47.3" y1="609.87" x2="48.6" y2="609.87" stroke="#8a8a8a" stroke-width="0.8"/>
<line x1="168.4" y1="609.87" x2="167.1" y2="609.87" stroke="#8a8a8a" stroke-width="0.8"/>
<text x="45" y="613.18" class="tk" style="font-size:7.0px" text-anchor="end">0</text>
<line x1="47.3" y1="642.7" x2="48.6" y2="642.7" stroke="#8a8a8a" stroke-width="0.8"/>
<line x1="168.4" y1="642.7" x2="167.1" y2="642.7" stroke="#8a8a8a" stroke-width="0.8"/>
<text x="45" y="646.01" class="tk" style="font-size:7.0px" text-anchor="end">-0.5</text>
<text x="107.85" y="681.8" class="xl" style="font-size:8.2px" text-anchor="middle">PMI (min)</text>
<g fill="#4a4ad4" fill-opacity="0.56" stroke="#22229c" stroke-opacity="0.85" stroke-width="0.8">
<circle cx="119.6" cy="558.08" r="1.95"/>
<circle cx="64.5" cy="585.49" r="1.95"/>
<circle cx="72.1" cy="585.49" r="1.95"/>
<circle cx="113" cy="584.77" r="1.95"/>
<circle cx="143.2" cy="586.34" r="1.95"/>
<circle cx="87.9" cy="591.65" r="1.95"/>
<circle cx="89.8" cy="593.22" r="1.95"/>
<circle cx="98.9" cy="592.74" r="1.95"/>
<circle cx="79.1" cy="596.84" r="1.95"/>
<circle cx="108.9" cy="596.6" r="1.95"/>
<circle cx="60.2" cy="599.13" r="1.95"/>
<circle cx="156" cy="598.65" r="1.95"/>
<circle cx="67.7" cy="603.72" r="1.95"/>
<circle cx="82.8" cy="603" r="1.95"/>
<circle cx="84.3" cy="604.57" r="1.95"/>
<circle cx="85.7" cy="600.7" r="1.95"/>
<circle cx="95.5" cy="601.79" r="1.95"/>
<circle cx="102.3" cy="605.29" r="1.95"/>
<circle cx="105.5" cy="605.29" r="1.95"/>
<circle cx="118.7" cy="608.67" r="1.95"/>
<circle cx="130.9" cy="612.05" r="1.95"/>
<circle cx="75.3" cy="615.55" r="1.95"/>
<circle cx="78.1" cy="616.64" r="1.95"/>
<circle cx="79.4" cy="613.26" r="1.95"/>
<circle cx="84.7" cy="615.07" r="1.95"/>
<circle cx="99.4" cy="619.66" r="1.95"/>
<circle cx="97" cy="622.32" r="1.95"/>
</g>
<g fill="#cc3440" fill-opacity="0.56" stroke="#921a26" stroke-opacity="0.85" stroke-width="0.8">
<circle cx="97.54" cy="572.45" r="1.95"/>
<circle cx="119.26" cy="572.94" r="1.95"/>
<circle cx="121.76" cy="572.94" r="1.95"/>
<circle cx="117.96" cy="578.61" r="1.95"/>
<circle cx="122.66" cy="581.63" r="1.95"/>
<circle cx="83.03" cy="580.18" r="1.95"/>
<circle cx="91.34" cy="581.39" r="1.95"/>
<circle cx="92.84" cy="585.49" r="1.95"/>
<circle cx="100.04" cy="584.77" r="1.95"/>
<circle cx="111.15" cy="583.68" r="1.95"/>
<circle cx="117.36" cy="589.36" r="1.95"/>
<circle cx="86.23" cy="589.36" r="1.95"/>
<circle cx="87.13" cy="592.98" r="1.95"/>
<circle cx="85.33" cy="594.55" r="1.95"/>
<circle cx="80.23" cy="594.55" r="1.95"/>
<circle cx="91.94" cy="595.75" r="1.95"/>
<circle cx="96.64" cy="591.17" r="1.95"/>
<circle cx="100.04" cy="593.46" r="1.95"/>
<circle cx="103.55" cy="593.82" r="1.95"/>
<circle cx="123.06" cy="595.27" r="1.95"/>
<circle cx="132.07" cy="593.82" r="1.95"/>
<circle cx="161.69" cy="598.41" r="1.95"/>
<circle cx="108.55" cy="601.43" r="1.95"/>
<circle cx="119.86" cy="604.81" r="1.95"/>
<circle cx="81.93" cy="605.29" r="1.95"/>
<circle cx="84.33" cy="609.76" r="1.95"/>
<circle cx="70.72" cy="608.67" r="1.95"/>
<circle cx="61.71" cy="611.21" r="1.95"/>
<circle cx="59.81" cy="613.5" r="1.95"/>
<circle cx="66.82" cy="613.26" r="1.95"/>
<circle cx="97.54" cy="609.4" r="1.95"/>
<circle cx="100.94" cy="607.59" r="1.95"/>
<circle cx="103.25" cy="615.55" r="1.95"/>
<circle cx="105.45" cy="619.66" r="1.95"/>
<circle cx="80.03" cy="617.37" r="1.95"/>
<circle cx="133.77" cy="617.97" r="1.95"/>
<circle cx="97.14" cy="624.61" r="1.95"/>
<circle cx="105.45" cy="632.58" r="1.95"/>
<circle cx="106.95" cy="643.57" r="1.95"/>
</g>
<g fill="#922c3c" fill-opacity="0.85" stroke="#6a1424" stroke-opacity="0.6" stroke-width="0.6">
<rect x="133.37" y="565.66" width="3.2" height="3.2"/>
<rect x="88.94" y="567.95" width="3.2" height="3.2"/>
<rect x="84.43" y="575.92" width="3.2" height="3.2"/>
<rect x="101.25" y="574.72" width="3.2" height="3.2"/>
<rect x="68.82" y="594.52" width="3.2" height="3.2"/>
<rect x="114.66" y="598.26" width="3.2" height="3.2"/>
<rect x="131.47" y="601.4" width="3.2" height="3.2"/>
<rect x="137.28" y="603.93" width="3.2" height="3.2"/>
<rect x="134.27" y="608.16" width="3.2" height="3.2"/>
<rect x="152.19" y="608.16" width="3.2" height="3.2"/>
<rect x="153.19" y="608.4" width="3.2" height="3.2"/>
<rect x="98.44" y="613.95" width="3.2" height="3.2"/>
<rect x="100.35" y="613.47" width="3.2" height="3.2"/>
<rect x="102.35" y="611.18" width="3.2" height="3.2"/>
<rect x="104.25" y="617.58" width="3.2" height="3.2"/>
<rect x="111.65" y="627.84" width="3.2" height="3.2"/>
<rect x="115.36" y="626.63" width="3.2" height="3.2"/>
<rect x="102.75" y="636.65" width="3.2" height="3.2"/>
<rect x="114.06" y="642.57" width="3.2" height="3.2"/>
<rect x="128.27" y="641" width="3.2" height="3.2"/>
</g>
<path d="M133.69 565.98L136.25 568.54M133.69 568.54L136.25 565.98M89.26 568.27L91.82 570.83M89.26 570.83L91.82 568.27M84.75 576.24L87.31 578.8M84.75 578.8L87.31 576.24M101.57 575.04L104.13 577.6M101.57 577.6L104.13 575.04M69.14 594.84L71.7 597.4M69.14 597.4L71.7 594.84M114.98 598.58L117.54 601.14M114.98 601.14L117.54 598.58M131.79 601.72L134.35 604.28M131.79 604.28L134.35 601.72M137.6 604.25L140.16 606.81M137.6 606.81L140.16 604.25M134.59 608.48L137.15 611.04M134.59 611.04L137.15 608.48M152.51 608.48L155.07 611.04M152.51 611.04L155.07 608.48M153.51 608.72L156.07 611.28M153.51 611.28L156.07 608.72M98.76 614.27L101.32 616.83M98.76 616.83L101.32 614.27M100.67 613.79L103.23 616.35M100.67 616.35L103.23 613.79M102.67 611.5L105.23 614.06M102.67 614.06L105.23 611.5M104.57 617.9L107.13 620.46M104.57 620.46L107.13 617.9M111.97 628.16L114.53 630.72M111.97 630.72L114.53 628.16M115.68 626.95L118.24 629.51M115.68 629.51L118.24 626.95M103.07 636.97L105.63 639.53M103.07 639.53L105.63 636.97M114.38 642.89L116.94 645.45M114.38 645.45L116.94 642.89M128.59 641.32L131.15 643.88M128.59 643.88L131.15 641.32" stroke="#4a0a18" stroke-opacity="0.7" stroke-width="0.55" fill="none"/>
<line x1="47.3" y1="604.8" x2="168.4" y2="593.4" stroke="#a0a0dc" stroke-opacity="0.5" stroke-width="0.6"/>
<line x1="47.3" y1="600" x2="168.4" y2="604.8" stroke="#d8a8a8" stroke-opacity="0.5" stroke-width="0.6"/>
<text x="107.85" y="540.8" class="ti" style="font-size:10px" text-anchor="middle">rs1521177</text>
<text transform="translate(16.6,603.3) rotate(-90)" class="yl" style="font-size:8.9px" text-anchor="middle">Esophageal Mucosa</text>
<text transform="translate(29.3,603.3) rotate(-90)" class="yl" style="font-size:8.9px" text-anchor="middle">residual expression</text>
<rect x="206.3" y="564.4" width="121.1" height="97.9" fill="none" stroke="#8a8a8a" stroke-width="1"/>
<text x="206.3" y="672.8" class="tk" style="font-size:7.0px" text-anchor="middle">0</text>
<line x1="243.91" y1="662.3" x2="243.91" y2="661" stroke="#8a8a8a" stroke-width="0.8"/>
<line x1="243.91" y1="564.4" x2="243.91" y2="565.7" stroke="#8a8a8a" stroke-width="0.8"/>
<text x="243.91" y="672.8" class="tk" style="font-size:7.0px" text-anchor="middle">500</text>
<line x1="281.52" y1="662.3" x2="281.52" y2="661" stroke="#8a8a8a" stroke-width="0.8"/>
<line x1="281.52" y1="564.4" x2="281.52" y2="565.7" stroke="#8a8a8a" stroke-width="0.8"/>
<text x="281.52" y="672.8" class="tk" style="font-size:7.0px" text-anchor="middle">1000</text>
<line x1="319.13" y1="662.3" x2="319.13" y2="661" stroke="#8a8a8a" stroke-width="0.8"/>
<line x1="319.13" y1="564.4" x2="319.13" y2="565.7" stroke="#8a8a8a" stroke-width="0.8"/>
<text x="319.13" y="672.8" class="tk" style="font-size:7.0px" text-anchor="middle">1500</text>
<line x1="206.3" y1="564.4" x2="207.6" y2="564.4" stroke="#8a8a8a" stroke-width="0.8"/>
<line x1="327.4" y1="564.4" x2="326.1" y2="564.4" stroke="#8a8a8a" stroke-width="0.8"/>
<text x="204" y="567.71" class="tk" style="font-size:7.0px" text-anchor="end">1</text>
<line x1="206.3" y1="591.59" x2="207.6" y2="591.59" stroke="#8a8a8a" stroke-width="0.8"/>
<line x1="327.4" y1="591.59" x2="326.1" y2="591.59" stroke="#8a8a8a" stroke-width="0.8"/>
<text x="204" y="594.9" class="tk" style="font-size:7.0px" text-anchor="end">0.5</text>
<line x1="206.3" y1="618.79" x2="207.6" y2="618.79" stroke="#8a8a8a" stroke-width="0.8"/>
<line x1="327.4" y1="618.79" x2="326.1" y2="618.79" stroke="#8a8a8a" stroke-width="0.8"/>
<text x="204" y="622.1" class="tk" style="font-size:7.0px" text-anchor="end">0</text>
<line x1="206.3" y1="645.98" x2="207.6" y2="645.98" stroke="#8a8a8a" stroke-width="0.8"/>
<line x1="327.4" y1="645.98" x2="326.1" y2="645.98" stroke="#8a8a8a" stroke-width="0.8"/>
<text x="204" y="649.29" class="tk" style="font-size:7.0px" text-anchor="end">-0.5</text>
<text x="266.85" y="681.7" class="xl" style="font-size:8.2px" text-anchor="middle">PMI (min)</text>
<g fill="#4a4ad4" fill-opacity="0.56" stroke="#22229c" stroke-opacity="0.85" stroke-width="0.8">
<circle cx="278.6" cy="575.9" r="1.95"/>
<circle cx="223.5" cy="598.6" r="1.95"/>
<circle cx="231.1" cy="598.6" r="1.95"/>
<circle cx="272" cy="598" r="1.95"/>
<circle cx="302.2" cy="599.3" r="1.95"/>
<circle cx="246.9" cy="603.7" r="1.95"/>
<circle cx="248.8" cy="605" r="1.95"/>
<circle cx="257.9" cy="604.6" r="1.95"/>
<circle cx="238.1" cy="608" r="1.95"/>
<circle cx="267.9" cy="607.8" r="1.95"/>
<circle cx="219.2" cy="609.9" r="1.95"/>
<circle cx="315" cy="609.5" r="1.95"/>
<circle cx="226.7" cy="613.7" r="1.95"/>
<circle cx="241.8" cy="613.1" r="1.95"/>
<circle cx="243.3" cy="614.4" r="1.95"/>
<circle cx="244.7" cy="611.2" r="1.95"/>
<circle cx="254.5" cy="612.1" r="1.95"/>
<circle cx="261.3" cy="615" r="1.95"/>
<circle cx="264.5" cy="615" r="1.95"/>
<circle cx="277.7" cy="617.8" r="1.95"/>
<circle cx="289.9" cy="620.6" r="1.95"/>
<circle cx="234.3" cy="623.5" r="1.95"/>
<circle cx="237.1" cy="624.4" r="1.95"/>
<circle cx="238.4" cy="621.6" r="1.95"/>
<circle cx="243.7" cy="623.1" r="1.95"/>
<circle cx="258.4" cy="626.9" r="1.95"/>
<circle cx="256" cy="629.1" r="1.95"/>
</g>
<line x1="206.3" y1="615" x2="327.4" y2="605" stroke="#a0a0dc" stroke-opacity="0.5" stroke-width="0.6"/>
<rect x="237" y="544.2" width="59.7" height="9" fill="#fff" stroke="#8a8a8a" stroke-width="0.9"/>
<circle cx="245.4" cy="548.7" r="1.75" fill="#4a4ad4" fill-opacity="0.56" stroke="#22229c" stroke-opacity="0.85" stroke-width="0.6"/>
<text x="254.2" y="550.79" class="lg" style="font-size:5.8px" textLength="39.92" lengthAdjust="spacingAndGlyphs">GG - rs1521177</text>
<rect x="365.7" y="564.4" width="121" height="97.9" fill="none" stroke="#8a8a8a" stroke-width="1"/>
<text x="365.7" y="672.8" class="tk" style="font-size:7.0px" text-anchor="middle">0</text>
<line x1="403.28" y1="662.3" x2="403.28" y2="661" stroke="#8a8a8a" stroke-width="0.8"/>
<line x1="403.28" y1="564.4" x2="403.28" y2="565.7" stroke="#8a8a8a" stroke-width="0.8"/>
<text x="403.28" y="672.8" class="tk" style="font-size:7.0px" text-anchor="middle">500</text>
<line x1="440.86" y1="662.3" x2="440.86" y2="661" stroke="#8a8a8a" stroke-width="0.8"/>
<line x1="440.86" y1="564.4" x2="440.86" y2="565.7" stroke="#8a8a8a" stroke-width="0.8"/>
<text x="440.86" y="672.8" class="tk" style="font-size:7.0px" text-anchor="middle">1000</text>
<line x1="478.43" y1="662.3" x2="478.43" y2="661" stroke="#8a8a8a" stroke-width="0.8"/>
<line x1="478.43" y1="564.4" x2="478.43" y2="565.7" stroke="#8a8a8a" stroke-width="0.8"/>
<text x="478.43" y="672.8" class="tk" style="font-size:7.0px" text-anchor="middle">1500</text>
<line x1="365.7" y1="564.4" x2="367" y2="564.4" stroke="#8a8a8a" stroke-width="0.8"/>
<line x1="486.7" y1="564.4" x2="485.4" y2="564.4" stroke="#8a8a8a" stroke-width="0.8"/>
<text x="363.4" y="567.71" class="tk" style="font-size:7.0px" text-anchor="end">1</text>
<line x1="365.7" y1="591.59" x2="367" y2="591.59" stroke="#8a8a8a" stroke-width="0.8"/>
<line x1="486.7" y1="591.59" x2="485.4" y2="591.59" stroke="#8a8a8a" stroke-width="0.8"/>
<text x="363.4" y="594.9" class="tk" style="font-size:7.0px" text-anchor="end">0.5</text>
<line x1="365.7" y1="618.79" x2="367" y2="618.79" stroke="#8a8a8a" stroke-width="0.8"/>
<line x1="486.7" y1="618.79" x2="485.4" y2="618.79" stroke="#8a8a8a" stroke-width="0.8"/>
<text x="363.4" y="622.1" class="tk" style="font-size:7.0px" text-anchor="end">0</text>
<line x1="365.7" y1="645.98" x2="367" y2="645.98" stroke="#8a8a8a" stroke-width="0.8"/>
<line x1="486.7" y1="645.98" x2="485.4" y2="645.98" stroke="#8a8a8a" stroke-width="0.8"/>
<text x="363.4" y="649.29" class="tk" style="font-size:7.0px" text-anchor="end">-0.5</text>
<text x="426.2" y="681.7" class="xl" style="font-size:8.2px" text-anchor="middle">PMI (min)</text>
<g fill="#cc3440" fill-opacity="0.56" stroke="#921a26" stroke-opacity="0.85" stroke-width="0.8">
<circle cx="415.9" cy="587.8" r="1.95"/>
<circle cx="437.6" cy="588.2" r="1.95"/>
<circle cx="440.1" cy="588.2" r="1.95"/>
<circle cx="436.3" cy="592.9" r="1.95"/>
<circle cx="441" cy="595.4" r="1.95"/>
<circle cx="401.4" cy="594.2" r="1.95"/>
<circle cx="409.7" cy="595.2" r="1.95"/>
<circle cx="411.2" cy="598.6" r="1.95"/>
<circle cx="418.4" cy="598" r="1.95"/>
<circle cx="429.5" cy="597.1" r="1.95"/>
<circle cx="435.7" cy="601.8" r="1.95"/>
<circle cx="404.6" cy="601.8" r="1.95"/>
<circle cx="405.5" cy="604.8" r="1.95"/>
<circle cx="403.7" cy="606.1" r="1.95"/>
<circle cx="398.6" cy="606.1" r="1.95"/>
<circle cx="410.3" cy="607.1" r="1.95"/>
<circle cx="415" cy="603.3" r="1.95"/>
<circle cx="418.4" cy="605.2" r="1.95"/>
<circle cx="421.9" cy="605.5" r="1.95"/>
<circle cx="441.4" cy="606.7" r="1.95"/>
<circle cx="450.4" cy="605.5" r="1.95"/>
<circle cx="480" cy="609.3" r="1.95"/>
<circle cx="426.9" cy="611.8" r="1.95"/>
<circle cx="438.2" cy="614.6" r="1.95"/>
<circle cx="400.3" cy="615" r="1.95"/>
<circle cx="402.7" cy="618.7" r="1.95"/>
<circle cx="389.1" cy="617.8" r="1.95"/>
<circle cx="380.1" cy="619.9" r="1.95"/>
<circle cx="378.2" cy="621.8" r="1.95"/>
<circle cx="385.2" cy="621.6" r="1.95"/>
<circle cx="415.9" cy="618.4" r="1.95"/>
<circle cx="419.3" cy="616.9" r="1.95"/>
<circle cx="421.6" cy="623.5" r="1.95"/>
<circle cx="423.8" cy="626.9" r="1.95"/>
<circle cx="398.4" cy="625" r="1.95"/>
<circle cx="452.1" cy="625.5" r="1.95"/>
<circle cx="415.5" cy="631" r="1.95"/>
<circle cx="423.8" cy="637.6" r="1.95"/>
<circle cx="425.3" cy="646.7" r="1.95"/>
</g>
<line x1="365.7" y1="616.1" x2="486.7" y2="601.8" stroke="#d8a8a8" stroke-opacity="0.5" stroke-width="0.6"/>
<rect x="396.4" y="544.2" width="59.4" height="9" fill="#fff" stroke="#8a8a8a" stroke-width="0.9"/>
<circle cx="405.3" cy="548.7" r="1.75" fill="#cc3440" fill-opacity="0.56" stroke="#921a26" stroke-opacity="0.85" stroke-width="0.6"/>
<text x="414.1" y="550.79" class="lg" style="font-size:5.8px" textLength="38.88" lengthAdjust="spacingAndGlyphs">GT - rs1521177</text>
<rect x="524.5" y="564.4" width="121" height="97.9" fill="none" stroke="#8a8a8a" stroke-width="1"/>
<text x="524.5" y="672.8" class="tk" style="font-size:7.0px" text-anchor="middle">0</text>
<line x1="562.08" y1="662.3" x2="562.08" y2="661" stroke="#8a8a8a" stroke-width="0.8"/>
<line x1="562.08" y1="564.4" x2="562.08" y2="565.7" stroke="#8a8a8a" stroke-width="0.8"/>
<text x="562.08" y="672.8" class="tk" style="font-size:7.0px" text-anchor="middle">500</text>
<line x1="599.66" y1="662.3" x2="599.66" y2="661" stroke="#8a8a8a" stroke-width="0.8"/>
<line x1="599.66" y1="564.4" x2="599.66" y2="565.7" stroke="#8a8a8a" stroke-width="0.8"/>
<text x="599.66" y="672.8" class="tk" style="font-size:7.0px" text-anchor="middle">1000</text>
<line x1="637.23" y1="662.3" x2="637.23" y2="661" stroke="#8a8a8a" stroke-width="0.8"/>
<line x1="637.23" y1="564.4" x2="637.23" y2="565.7" stroke="#8a8a8a" stroke-width="0.8"/>
<text x="637.23" y="672.8" class="tk" style="font-size:7.0px" text-anchor="middle">1500</text>
<line x1="524.5" y1="564.4" x2="525.8" y2="564.4" stroke="#8a8a8a" stroke-width="0.8"/>
<line x1="645.5" y1="564.4" x2="644.2" y2="564.4" stroke="#8a8a8a" stroke-width="0.8"/>
<text x="522.2" y="567.71" class="tk" style="font-size:7.0px" text-anchor="end">1</text>
<line x1="524.5" y1="591.59" x2="525.8" y2="591.59" stroke="#8a8a8a" stroke-width="0.8"/>
<line x1="645.5" y1="591.59" x2="644.2" y2="591.59" stroke="#8a8a8a" stroke-width="0.8"/>
<text x="522.2" y="594.9" class="tk" style="font-size:7.0px" text-anchor="end">0.5</text>
<line x1="524.5" y1="618.79" x2="525.8" y2="618.79" stroke="#8a8a8a" stroke-width="0.8"/>
<line x1="645.5" y1="618.79" x2="644.2" y2="618.79" stroke="#8a8a8a" stroke-width="0.8"/>
<text x="522.2" y="622.1" class="tk" style="font-size:7.0px" text-anchor="end">0</text>
<line x1="524.5" y1="645.98" x2="525.8" y2="645.98" stroke="#8a8a8a" stroke-width="0.8"/>
<line x1="645.5" y1="645.98" x2="644.2" y2="645.98" stroke="#8a8a8a" stroke-width="0.8"/>
<text x="522.2" y="649.29" class="tk" style="font-size:7.0px" text-anchor="end">-0.5</text>
<text x="585" y="681.7" class="xl" style="font-size:8.2px" text-anchor="middle">PMI (min)</text>
<g fill="#922c3c" fill-opacity="0.85" stroke="#6a1424" stroke-opacity="0.6" stroke-width="0.6">
<rect x="610.5" y="581.9" width="3.2" height="3.2"/>
<rect x="566.1" y="583.8" width="3.2" height="3.2"/>
<rect x="561.6" y="590.4" width="3.2" height="3.2"/>
<rect x="578.4" y="589.4" width="3.2" height="3.2"/>
<rect x="546" y="605.8" width="3.2" height="3.2"/>
<rect x="591.8" y="608.9" width="3.2" height="3.2"/>
<rect x="608.6" y="611.5" width="3.2" height="3.2"/>
<rect x="614.4" y="613.6" width="3.2" height="3.2"/>
<rect x="611.4" y="617.1" width="3.2" height="3.2"/>
<rect x="629.3" y="617.1" width="3.2" height="3.2"/>
<rect x="630.3" y="617.3" width="3.2" height="3.2"/>
<rect x="575.6" y="621.9" width="3.2" height="3.2"/>
<rect x="577.5" y="621.5" width="3.2" height="3.2"/>
<rect x="579.5" y="619.6" width="3.2" height="3.2"/>
<rect x="581.4" y="624.9" width="3.2" height="3.2"/>
<rect x="588.8" y="633.4" width="3.2" height="3.2"/>
<rect x="592.5" y="632.4" width="3.2" height="3.2"/>
<rect x="579.9" y="640.7" width="3.2" height="3.2"/>
<rect x="591.2" y="645.6" width="3.2" height="3.2"/>
<rect x="605.4" y="644.3" width="3.2" height="3.2"/>
</g>
<path d="M610.82 582.22L613.38 584.78M610.82 584.78L613.38 582.22M566.42 584.12L568.98 586.68M566.42 586.68L568.98 584.12M561.92 590.72L564.48 593.28M561.92 593.28L564.48 590.72M578.72 589.72L581.28 592.28M578.72 592.28L581.28 589.72M546.32 606.12L548.88 608.68M546.32 608.68L548.88 606.12M592.12 609.22L594.68 611.78M592.12 611.78L594.68 609.22M608.92 611.82L611.48 614.38M608.92 614.38L611.48 611.82M614.72 613.92L617.28 616.48M614.72 616.48L617.28 613.92M611.72 617.42L614.28 619.98M611.72 619.98L614.28 617.42M629.62 617.42L632.18 619.98M629.62 619.98L632.18 617.42M630.62 617.62L633.18 620.18M630.62 620.18L633.18 617.62M575.92 622.22L578.48 624.78M575.92 624.78L578.48 622.22M577.82 621.82L580.38 624.38M577.82 624.38L580.38 621.82M579.82 619.92L582.38 622.48M579.82 622.48L582.38 619.92M581.72 625.22L584.28 627.78M581.72 627.78L584.28 625.22M589.12 633.72L591.68 636.28M589.12 636.28L591.68 633.72M592.82 632.72L595.38 635.28M592.82 635.28L595.38 632.72M580.22 641.02L582.78 643.58M580.22 643.58L582.78 641.02M591.52 645.92L594.08 648.48M591.52 648.48L594.08 645.92M605.72 644.62L608.28 647.18M605.72 647.18L608.28 644.62" stroke="#4a0a18" stroke-opacity="0.7" stroke-width="0.55" fill="none"/>
<line x1="524.5" y1="606.7" x2="645.5" y2="625.9" stroke="#d8a8a8" stroke-opacity="0.7" stroke-width="0.6"/>
<rect x="556.2" y="544.2" width="58.1" height="9" fill="#fff" stroke="#8a8a8a" stroke-width="0.9"/>
<circle cx="564.9" cy="548.7" r="1.75" fill="#cc3440" fill-opacity="0.56" stroke="#921a26" stroke-opacity="0.85" stroke-width="0.6"/>
<text x="573.7" y="550.79" class="lg" style="font-size:5.8px" textLength="37.94" lengthAdjust="spacingAndGlyphs">TT - rs1521177</text>
<text x="92.6" y="652.42" class="pr" style="font-size:7.0px" textLength="70.7" lengthAdjust="spacingAndGlyphs">Pearson-R = -0.0011329</text>
<text x="252.3" y="654.82" class="pr" style="font-size:7.0px" textLength="57.9" lengthAdjust="spacingAndGlyphs">Pearson-R = 0.1761</text>
<text x="411.2" y="654.42" class="pr" style="font-size:7.0px" textLength="61.1" lengthAdjust="spacingAndGlyphs">Pearson-R = 0.18545</text>
<text x="570.2" y="654.42" class="pr" style="font-size:7.0px" textLength="61.1" lengthAdjust="spacingAndGlyphs">Pearson-R = -0.1871</text>
</svg>
</body></html>
